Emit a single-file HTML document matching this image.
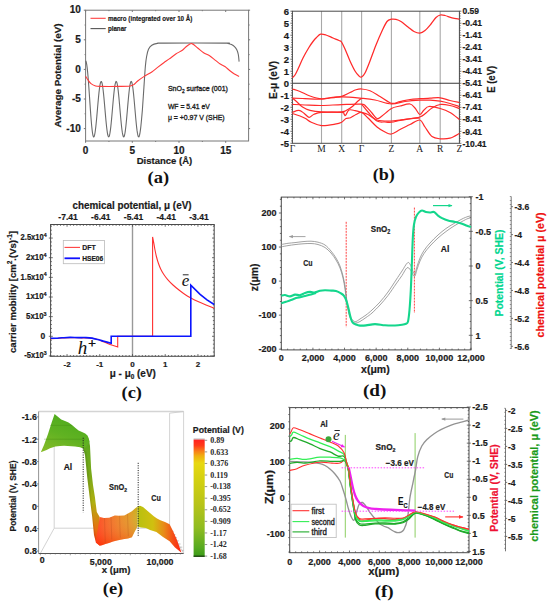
<!DOCTYPE html>
<html><head><meta charset="utf-8"><style>
html,body{margin:0;padding:0;background:#fff;}
svg{display:block;}
</style></head><body>
<svg width="550" height="606" viewBox="0 0 550 606">
<rect width="550" height="606" fill="#fff"/>
<rect x="85.6" y="10.2" width="163.0" height="130.8" fill="none" stroke="#777" stroke-width="1"/>
<line x1="85.6" y1="141" x2="85.6" y2="142.8" stroke="#777" stroke-width="1" />
<line x1="85.6" y1="10.2" x2="85.6" y2="12" stroke="#777" stroke-width="1" />
<line x1="132.3" y1="141" x2="132.3" y2="142.8" stroke="#777" stroke-width="1" />
<line x1="132.3" y1="10.2" x2="132.3" y2="12" stroke="#777" stroke-width="1" />
<line x1="179" y1="141" x2="179" y2="142.8" stroke="#777" stroke-width="1" />
<line x1="179" y1="10.2" x2="179" y2="12" stroke="#777" stroke-width="1" />
<line x1="225.7" y1="141" x2="225.7" y2="142.8" stroke="#777" stroke-width="1" />
<line x1="225.7" y1="10.2" x2="225.7" y2="12" stroke="#777" stroke-width="1" />
<line x1="108.95" y1="141" x2="108.95" y2="142" stroke="#777" stroke-width="1" />
<line x1="108.95" y1="10.2" x2="108.95" y2="11.2" stroke="#777" stroke-width="1" />
<line x1="155.65" y1="141" x2="155.65" y2="142" stroke="#777" stroke-width="1" />
<line x1="155.65" y1="10.2" x2="155.65" y2="11.2" stroke="#777" stroke-width="1" />
<line x1="202.35" y1="141" x2="202.35" y2="142" stroke="#777" stroke-width="1" />
<line x1="202.35" y1="10.2" x2="202.35" y2="11.2" stroke="#777" stroke-width="1" />
<line x1="83.8" y1="10.2" x2="85.6" y2="10.2" stroke="#777" stroke-width="1" />
<line x1="248.6" y1="10.2" x2="250.1" y2="10.2" stroke="#777" stroke-width="1" />
<line x1="83.8" y1="39.8" x2="85.6" y2="39.8" stroke="#777" stroke-width="1" />
<line x1="248.6" y1="39.8" x2="250.1" y2="39.8" stroke="#777" stroke-width="1" />
<line x1="83.8" y1="69.4" x2="85.6" y2="69.4" stroke="#777" stroke-width="1" />
<line x1="248.6" y1="69.4" x2="250.1" y2="69.4" stroke="#777" stroke-width="1" />
<line x1="83.8" y1="99" x2="85.6" y2="99" stroke="#777" stroke-width="1" />
<line x1="248.6" y1="99" x2="250.1" y2="99" stroke="#777" stroke-width="1" />
<line x1="83.8" y1="128.6" x2="85.6" y2="128.6" stroke="#777" stroke-width="1" />
<line x1="248.6" y1="128.6" x2="250.1" y2="128.6" stroke="#777" stroke-width="1" />
<line x1="84.6" y1="25" x2="85.6" y2="25" stroke="#777" stroke-width="1" />
<line x1="248.6" y1="25" x2="249.6" y2="25" stroke="#777" stroke-width="1" />
<line x1="84.6" y1="54.6" x2="85.6" y2="54.6" stroke="#777" stroke-width="1" />
<line x1="248.6" y1="54.6" x2="249.6" y2="54.6" stroke="#777" stroke-width="1" />
<line x1="84.6" y1="84.2" x2="85.6" y2="84.2" stroke="#777" stroke-width="1" />
<line x1="248.6" y1="84.2" x2="249.6" y2="84.2" stroke="#777" stroke-width="1" />
<line x1="84.6" y1="113.8" x2="85.6" y2="113.8" stroke="#777" stroke-width="1" />
<line x1="248.6" y1="113.8" x2="249.6" y2="113.8" stroke="#777" stroke-width="1" />
<text x="80.8" y="13.4" font-size="10" font-weight="bold" text-anchor="end" fill="#1a1a1a" font-family='"Liberation Sans", sans-serif' stroke="#1a1a1a" stroke-width="0.2" >10</text>
<text x="80.8" y="43" font-size="10" font-weight="bold" text-anchor="end" fill="#1a1a1a" font-family='"Liberation Sans", sans-serif' stroke="#1a1a1a" stroke-width="0.2" >5</text>
<text x="80.8" y="72.6" font-size="10" font-weight="bold" text-anchor="end" fill="#1a1a1a" font-family='"Liberation Sans", sans-serif' stroke="#1a1a1a" stroke-width="0.2" >0</text>
<text x="80.8" y="102.2" font-size="10" font-weight="bold" text-anchor="end" fill="#1a1a1a" font-family='"Liberation Sans", sans-serif' stroke="#1a1a1a" stroke-width="0.2" >-5</text>
<text x="80.8" y="131.8" font-size="10" font-weight="bold" text-anchor="end" fill="#1a1a1a" font-family='"Liberation Sans", sans-serif' stroke="#1a1a1a" stroke-width="0.2" >-10</text>
<text x="85.6" y="153.6" font-size="10" font-weight="bold" text-anchor="middle" fill="#1a1a1a" font-family='"Liberation Sans", sans-serif' stroke="#1a1a1a" stroke-width="0.2" >0</text>
<text x="132.3" y="153.6" font-size="10" font-weight="bold" text-anchor="middle" fill="#1a1a1a" font-family='"Liberation Sans", sans-serif' stroke="#1a1a1a" stroke-width="0.2" >5</text>
<text x="179" y="153.6" font-size="10" font-weight="bold" text-anchor="middle" fill="#1a1a1a" font-family='"Liberation Sans", sans-serif' stroke="#1a1a1a" stroke-width="0.2" >10</text>
<text x="225.7" y="153.6" font-size="10" font-weight="bold" text-anchor="middle" fill="#1a1a1a" font-family='"Liberation Sans", sans-serif' stroke="#1a1a1a" stroke-width="0.2" >15</text>
<text x="60.6" y="75.5" font-size="9.8" font-weight="bold" text-anchor="middle" fill="#1a1a1a" font-family='"Liberation Sans", sans-serif' textLength="104" lengthAdjust="spacingAndGlyphs" transform="rotate(-90 60.6 75.5)" stroke="#1a1a1a" stroke-width="0.2" >Average Potential (eV)</text>
<text x="164.5" y="163.8" font-size="9.6" font-weight="bold" text-anchor="middle" fill="#1a1a1a" font-family='"Liberation Sans", sans-serif' textLength="55.5" lengthAdjust="spacingAndGlyphs" stroke="#1a1a1a" stroke-width="0.2" >Distance (Å)</text>
<text x="158.3" y="183.3" font-size="16.5" font-weight="bold" text-anchor="middle" fill="#111" font-family='"Liberation Serif", serif' textLength="21.6" lengthAdjust="spacingAndGlyphs" >(a)</text>
<path d="M85.6,60.9 L86,61.37 L86.41,62.76 L86.81,65.04 L87.22,68.16 L87.62,72.03 L88.03,76.56 L88.44,81.65 L88.84,87.16 L89.25,92.96 L89.65,98.9 L90.06,104.84 L90.46,110.64 L90.86,116.15 L91.27,121.24 L91.67,125.77 L92.08,129.64 L92.48,132.76 L92.89,135.04 L93.3,136.43 L93.7,136.9 L93.7,136.9 L94.05,136.6 L94.4,135.72 L94.75,134.26 L95.1,132.27 L95.45,129.79 L95.8,126.86 L96.15,123.55 L96.5,119.93 L96.85,116.09 L97.2,112.1 L97.55,108.04 L97.9,104.01 L98.25,100.09 L98.6,96.37 L98.95,92.92 L99.3,89.82 L99.65,87.14 L100,84.93 L100.35,83.24 L100.7,82.11 L101.05,81.55 L101.4,81.6 L101.75,82.23 L102.1,83.45 L102.45,85.21 L102.8,87.49 L103.15,90.24 L103.5,93.39 L103.85,96.88 L104.2,100.64 L104.55,104.58 L104.9,108.62 L105.25,112.67 L105.6,116.65 L105.95,120.47 L106.3,124.04 L106.65,127.3 L107,130.17 L107.35,132.59 L107.7,134.51 L108.05,135.88 L108.4,136.68 L108.75,136.89 L109.1,136.51 L109.45,135.54 L109.8,134.01 L110.15,131.95 L110.5,129.39 L110.85,126.41 L111.2,123.05 L111.55,119.4 L111.9,115.53 L112.25,111.52 L112.6,107.46 L112.95,103.44 L113.3,99.54 L113.65,95.86 L114,92.45 L114.35,89.41 L114.7,86.79 L115.05,84.65 L115.4,83.04 L115.75,81.99 L116.1,81.52 L116.45,81.65 L116.8,82.37 L117.15,83.66 L117.5,85.51 L117.85,87.86 L118.2,90.67 L118.55,93.87 L118.9,97.41 L119.25,101.19 L119.6,105.15 L119.95,109.2 L120.3,113.25 L120.65,117.21 L121,120.99 L121.35,124.53 L121.7,127.73 L122.05,130.54 L122.4,132.89 L122.75,134.74 L123.1,136.03 L123.45,136.75 L123.8,136.88 L124.15,136.41 L124.5,135.36 L124.85,133.75 L125.2,131.61 L125.55,128.99 L125.9,125.95 L126.25,122.54 L126.6,118.86 L126.95,114.96 L127.3,110.94 L127.65,106.88 L128,102.87 L128.35,99 L128.7,95.35 L129.05,91.99 L129.4,89.01 L129.75,86.45 L130.1,84.39 L130.45,82.86 L130.8,81.89 L131.15,81.51 L131.5,81.72 L131.85,82.52 L132.2,83.89 L132.55,85.81 L132.9,88.23 L133.25,91.1 L133.6,94.36 L133.95,97.93 L134.3,101.75 L134.65,105.73 L135,109.78 L135.35,113.82 L135.7,117.76 L136.05,121.52 L136.4,125.01 L136.75,128.16 L137.1,130.91 L137.45,133.19 L137.8,134.95 L138.15,136.17 L138.5,136.8 L138.85,136.85 L139.2,136.29 L139.55,135.16 L139.9,133.47 L140.25,131.26 L140.6,128.58 L140.95,125.48 L141.3,122.03 L141.65,118.31 L142,114.39 L142.35,110.36 L143.4,95 L143.4,95 C143.57,92.5 144.07,84.83 144.4,80 C144.73,75.17 145.03,69.92 145.4,66 C145.77,62.08 146.08,59.28 146.6,56.5 C147.12,53.72 147.63,51.18 148.5,49.3 C149.37,47.42 150.33,46.18 151.8,45.2 C153.27,44.22 155.1,43.75 157.3,43.4 C159.5,43.05 153.88,43.15 165,43.1 C176.12,43.05 213.5,43.03 224,43.1 C234.5,43.17 226.75,43.25 228,43.5 C229.25,43.75 230.42,44.08 231.5,44.6 C232.58,45.12 233.62,45.73 234.5,46.6 C235.38,47.47 236.17,48.48 236.8,49.8 C237.43,51.12 237.92,52.53 238.3,54.5 C238.68,56.47 238.97,60.42 239.1,61.6" stroke="#6a6a6a" stroke-width="1.1" fill="none" />
<path d="M85.6,76.3 C86,76.92 87.1,78.78 88,80 C88.9,81.22 89.83,82.63 91,83.6 C92.17,84.57 93.5,85.33 95,85.8 C96.5,86.27 95.83,86.3 100,86.4 C104.17,86.5 115,86.47 120,86.4 C125,86.33 127.67,86.32 130,86 C132.33,85.68 132.67,85.37 134,84.5 C135.33,83.63 136.3,82.15 138,80.8 C139.7,79.45 141.9,77.87 144.2,76.4 C146.5,74.93 149.62,73.47 151.8,72 C153.98,70.53 155.3,69.15 157.3,67.6 C159.3,66.05 161.8,64.15 163.8,62.7 C165.8,61.25 167.3,60.35 169.3,58.9 C171.3,57.45 173.62,55.45 175.8,54 C177.98,52.55 180.53,51.53 182.4,50.2 C184.27,48.87 185.43,47.1 187,46 C188.57,44.9 190.02,43.27 191.8,43.6 C193.58,43.93 195.73,46.48 197.7,48 C199.67,49.52 201.62,51.4 203.6,52.7 C205.58,54 207.62,54.52 209.6,55.8 C211.58,57.08 213.73,59.03 215.5,60.4 C217.27,61.77 218.63,62.98 220.2,64 C221.77,65.02 223.33,65.42 224.9,66.5 C226.47,67.58 228.02,69.25 229.6,70.5 C231.18,71.75 232.82,73.02 234.4,74 C235.98,74.98 238.32,76 239.1,76.4" stroke="#ff3b3b" stroke-width="1.1" fill="none" />
<line x1="90.5" y1="18.3" x2="105.7" y2="18.3" stroke="#ff4040" stroke-width="1.1" />
<line x1="90.5" y1="28.6" x2="105.7" y2="28.6" stroke="#555" stroke-width="1.1" />
<text x="107.9" y="21" font-size="7.4" font-weight="bold" text-anchor="start" fill="#1a1a1a" font-family='"Liberation Sans", sans-serif' textLength="84.5" lengthAdjust="spacingAndGlyphs" stroke="#1a1a1a" stroke-width="0.2" >macro (integrated over 10 Å)</text>
<text x="107.9" y="31.3" font-size="7.4" font-weight="bold" text-anchor="start" fill="#1a1a1a" font-family='"Liberation Sans", sans-serif' textLength="18.6" lengthAdjust="spacingAndGlyphs" stroke="#1a1a1a" stroke-width="0.2" >planar</text>
<text x="167.9" y="90.9" font-size="8" font-weight="normal" text-anchor="start" fill="#222" font-family='"Liberation Sans", sans-serif' textLength="60" lengthAdjust="spacingAndGlyphs" stroke="#222" stroke-width="0.35" >SnO<tspan font-size="5.5" dy="1.8">2</tspan><tspan dy="-1.8"> surface (001)</tspan></text>
<text x="167.9" y="108.9" font-size="8" font-weight="normal" text-anchor="start" fill="#222" font-family='"Liberation Sans", sans-serif' textLength="42" lengthAdjust="spacingAndGlyphs" stroke="#222" stroke-width="0.35" >WF = 5.41 eV</text>
<text x="167.9" y="120" font-size="8" font-weight="normal" text-anchor="start" fill="#222" font-family='"Liberation Sans", sans-serif' textLength="56.7" lengthAdjust="spacingAndGlyphs" stroke="#222" stroke-width="0.35" >μ = +0.97 V (SHE)</text>
<line x1="321.5" y1="11.2" x2="321.5" y2="143.3" stroke="#a8a8a8" stroke-width="1.1" />
<line x1="341.7" y1="11.2" x2="341.7" y2="143.3" stroke="#a8a8a8" stroke-width="1.1" />
<line x1="361.6" y1="11.2" x2="361.6" y2="143.3" stroke="#a8a8a8" stroke-width="1.1" />
<line x1="391.4" y1="11.2" x2="391.4" y2="143.3" stroke="#a8a8a8" stroke-width="1.1" />
<line x1="419.8" y1="11.2" x2="419.8" y2="143.3" stroke="#a8a8a8" stroke-width="1.1" />
<line x1="440.2" y1="11.2" x2="440.2" y2="143.3" stroke="#a8a8a8" stroke-width="1.1" />
<line x1="292.4" y1="83.26" x2="459.4" y2="83.26" stroke="#222" stroke-width="0.9" />
<rect x="292.4" y="11.2" width="167.0" height="132.10000000000002" fill="none" stroke="#4a4a4a" stroke-width="1"/>
<line x1="290.4" y1="11.2" x2="292.4" y2="11.2" stroke="#4a4a4a" stroke-width="0.8" />
<line x1="459.4" y1="11.2" x2="461.4" y2="11.2" stroke="#4a4a4a" stroke-width="0.8" />
<line x1="291.2" y1="13.6" x2="292.4" y2="13.6" stroke="#4a4a4a" stroke-width="0.8" />
<line x1="459.4" y1="13.6" x2="460.6" y2="13.6" stroke="#4a4a4a" stroke-width="0.8" />
<line x1="291.2" y1="16" x2="292.4" y2="16" stroke="#4a4a4a" stroke-width="0.8" />
<line x1="459.4" y1="16" x2="460.6" y2="16" stroke="#4a4a4a" stroke-width="0.8" />
<line x1="291.2" y1="18.41" x2="292.4" y2="18.41" stroke="#4a4a4a" stroke-width="0.8" />
<line x1="459.4" y1="18.41" x2="460.6" y2="18.41" stroke="#4a4a4a" stroke-width="0.8" />
<line x1="291.2" y1="20.81" x2="292.4" y2="20.81" stroke="#4a4a4a" stroke-width="0.8" />
<line x1="459.4" y1="20.81" x2="460.6" y2="20.81" stroke="#4a4a4a" stroke-width="0.8" />
<line x1="290.4" y1="23.21" x2="292.4" y2="23.21" stroke="#4a4a4a" stroke-width="0.8" />
<line x1="459.4" y1="23.21" x2="461.4" y2="23.21" stroke="#4a4a4a" stroke-width="0.8" />
<line x1="291.2" y1="25.61" x2="292.4" y2="25.61" stroke="#4a4a4a" stroke-width="0.8" />
<line x1="459.4" y1="25.61" x2="460.6" y2="25.61" stroke="#4a4a4a" stroke-width="0.8" />
<line x1="291.2" y1="28.01" x2="292.4" y2="28.01" stroke="#4a4a4a" stroke-width="0.8" />
<line x1="459.4" y1="28.01" x2="460.6" y2="28.01" stroke="#4a4a4a" stroke-width="0.8" />
<line x1="291.2" y1="30.42" x2="292.4" y2="30.42" stroke="#4a4a4a" stroke-width="0.8" />
<line x1="459.4" y1="30.42" x2="460.6" y2="30.42" stroke="#4a4a4a" stroke-width="0.8" />
<line x1="291.2" y1="32.82" x2="292.4" y2="32.82" stroke="#4a4a4a" stroke-width="0.8" />
<line x1="459.4" y1="32.82" x2="460.6" y2="32.82" stroke="#4a4a4a" stroke-width="0.8" />
<line x1="290.4" y1="35.22" x2="292.4" y2="35.22" stroke="#4a4a4a" stroke-width="0.8" />
<line x1="459.4" y1="35.22" x2="461.4" y2="35.22" stroke="#4a4a4a" stroke-width="0.8" />
<line x1="291.2" y1="37.62" x2="292.4" y2="37.62" stroke="#4a4a4a" stroke-width="0.8" />
<line x1="459.4" y1="37.62" x2="460.6" y2="37.62" stroke="#4a4a4a" stroke-width="0.8" />
<line x1="291.2" y1="40.02" x2="292.4" y2="40.02" stroke="#4a4a4a" stroke-width="0.8" />
<line x1="459.4" y1="40.02" x2="460.6" y2="40.02" stroke="#4a4a4a" stroke-width="0.8" />
<line x1="291.2" y1="42.43" x2="292.4" y2="42.43" stroke="#4a4a4a" stroke-width="0.8" />
<line x1="459.4" y1="42.43" x2="460.6" y2="42.43" stroke="#4a4a4a" stroke-width="0.8" />
<line x1="291.2" y1="44.83" x2="292.4" y2="44.83" stroke="#4a4a4a" stroke-width="0.8" />
<line x1="459.4" y1="44.83" x2="460.6" y2="44.83" stroke="#4a4a4a" stroke-width="0.8" />
<line x1="290.4" y1="47.23" x2="292.4" y2="47.23" stroke="#4a4a4a" stroke-width="0.8" />
<line x1="459.4" y1="47.23" x2="461.4" y2="47.23" stroke="#4a4a4a" stroke-width="0.8" />
<line x1="291.2" y1="49.63" x2="292.4" y2="49.63" stroke="#4a4a4a" stroke-width="0.8" />
<line x1="459.4" y1="49.63" x2="460.6" y2="49.63" stroke="#4a4a4a" stroke-width="0.8" />
<line x1="291.2" y1="52.03" x2="292.4" y2="52.03" stroke="#4a4a4a" stroke-width="0.8" />
<line x1="459.4" y1="52.03" x2="460.6" y2="52.03" stroke="#4a4a4a" stroke-width="0.8" />
<line x1="291.2" y1="54.44" x2="292.4" y2="54.44" stroke="#4a4a4a" stroke-width="0.8" />
<line x1="459.4" y1="54.44" x2="460.6" y2="54.44" stroke="#4a4a4a" stroke-width="0.8" />
<line x1="291.2" y1="56.84" x2="292.4" y2="56.84" stroke="#4a4a4a" stroke-width="0.8" />
<line x1="459.4" y1="56.84" x2="460.6" y2="56.84" stroke="#4a4a4a" stroke-width="0.8" />
<line x1="290.4" y1="59.24" x2="292.4" y2="59.24" stroke="#4a4a4a" stroke-width="0.8" />
<line x1="459.4" y1="59.24" x2="461.4" y2="59.24" stroke="#4a4a4a" stroke-width="0.8" />
<line x1="291.2" y1="61.64" x2="292.4" y2="61.64" stroke="#4a4a4a" stroke-width="0.8" />
<line x1="459.4" y1="61.64" x2="460.6" y2="61.64" stroke="#4a4a4a" stroke-width="0.8" />
<line x1="291.2" y1="64.04" x2="292.4" y2="64.04" stroke="#4a4a4a" stroke-width="0.8" />
<line x1="459.4" y1="64.04" x2="460.6" y2="64.04" stroke="#4a4a4a" stroke-width="0.8" />
<line x1="291.2" y1="66.45" x2="292.4" y2="66.45" stroke="#4a4a4a" stroke-width="0.8" />
<line x1="459.4" y1="66.45" x2="460.6" y2="66.45" stroke="#4a4a4a" stroke-width="0.8" />
<line x1="291.2" y1="68.85" x2="292.4" y2="68.85" stroke="#4a4a4a" stroke-width="0.8" />
<line x1="459.4" y1="68.85" x2="460.6" y2="68.85" stroke="#4a4a4a" stroke-width="0.8" />
<line x1="290.4" y1="71.25" x2="292.4" y2="71.25" stroke="#4a4a4a" stroke-width="0.8" />
<line x1="459.4" y1="71.25" x2="461.4" y2="71.25" stroke="#4a4a4a" stroke-width="0.8" />
<line x1="291.2" y1="73.65" x2="292.4" y2="73.65" stroke="#4a4a4a" stroke-width="0.8" />
<line x1="459.4" y1="73.65" x2="460.6" y2="73.65" stroke="#4a4a4a" stroke-width="0.8" />
<line x1="291.2" y1="76.05" x2="292.4" y2="76.05" stroke="#4a4a4a" stroke-width="0.8" />
<line x1="459.4" y1="76.05" x2="460.6" y2="76.05" stroke="#4a4a4a" stroke-width="0.8" />
<line x1="291.2" y1="78.46" x2="292.4" y2="78.46" stroke="#4a4a4a" stroke-width="0.8" />
<line x1="459.4" y1="78.46" x2="460.6" y2="78.46" stroke="#4a4a4a" stroke-width="0.8" />
<line x1="291.2" y1="80.86" x2="292.4" y2="80.86" stroke="#4a4a4a" stroke-width="0.8" />
<line x1="459.4" y1="80.86" x2="460.6" y2="80.86" stroke="#4a4a4a" stroke-width="0.8" />
<line x1="290.4" y1="83.26" x2="292.4" y2="83.26" stroke="#4a4a4a" stroke-width="0.8" />
<line x1="459.4" y1="83.26" x2="461.4" y2="83.26" stroke="#4a4a4a" stroke-width="0.8" />
<line x1="291.2" y1="85.66" x2="292.4" y2="85.66" stroke="#4a4a4a" stroke-width="0.8" />
<line x1="459.4" y1="85.66" x2="460.6" y2="85.66" stroke="#4a4a4a" stroke-width="0.8" />
<line x1="291.2" y1="88.06" x2="292.4" y2="88.06" stroke="#4a4a4a" stroke-width="0.8" />
<line x1="459.4" y1="88.06" x2="460.6" y2="88.06" stroke="#4a4a4a" stroke-width="0.8" />
<line x1="291.2" y1="90.47" x2="292.4" y2="90.47" stroke="#4a4a4a" stroke-width="0.8" />
<line x1="459.4" y1="90.47" x2="460.6" y2="90.47" stroke="#4a4a4a" stroke-width="0.8" />
<line x1="291.2" y1="92.87" x2="292.4" y2="92.87" stroke="#4a4a4a" stroke-width="0.8" />
<line x1="459.4" y1="92.87" x2="460.6" y2="92.87" stroke="#4a4a4a" stroke-width="0.8" />
<line x1="290.4" y1="95.27" x2="292.4" y2="95.27" stroke="#4a4a4a" stroke-width="0.8" />
<line x1="459.4" y1="95.27" x2="461.4" y2="95.27" stroke="#4a4a4a" stroke-width="0.8" />
<line x1="291.2" y1="97.67" x2="292.4" y2="97.67" stroke="#4a4a4a" stroke-width="0.8" />
<line x1="459.4" y1="97.67" x2="460.6" y2="97.67" stroke="#4a4a4a" stroke-width="0.8" />
<line x1="291.2" y1="100.07" x2="292.4" y2="100.07" stroke="#4a4a4a" stroke-width="0.8" />
<line x1="459.4" y1="100.07" x2="460.6" y2="100.07" stroke="#4a4a4a" stroke-width="0.8" />
<line x1="291.2" y1="102.48" x2="292.4" y2="102.48" stroke="#4a4a4a" stroke-width="0.8" />
<line x1="459.4" y1="102.48" x2="460.6" y2="102.48" stroke="#4a4a4a" stroke-width="0.8" />
<line x1="291.2" y1="104.88" x2="292.4" y2="104.88" stroke="#4a4a4a" stroke-width="0.8" />
<line x1="459.4" y1="104.88" x2="460.6" y2="104.88" stroke="#4a4a4a" stroke-width="0.8" />
<line x1="290.4" y1="107.28" x2="292.4" y2="107.28" stroke="#4a4a4a" stroke-width="0.8" />
<line x1="459.4" y1="107.28" x2="461.4" y2="107.28" stroke="#4a4a4a" stroke-width="0.8" />
<line x1="291.2" y1="109.68" x2="292.4" y2="109.68" stroke="#4a4a4a" stroke-width="0.8" />
<line x1="459.4" y1="109.68" x2="460.6" y2="109.68" stroke="#4a4a4a" stroke-width="0.8" />
<line x1="291.2" y1="112.08" x2="292.4" y2="112.08" stroke="#4a4a4a" stroke-width="0.8" />
<line x1="459.4" y1="112.08" x2="460.6" y2="112.08" stroke="#4a4a4a" stroke-width="0.8" />
<line x1="291.2" y1="114.49" x2="292.4" y2="114.49" stroke="#4a4a4a" stroke-width="0.8" />
<line x1="459.4" y1="114.49" x2="460.6" y2="114.49" stroke="#4a4a4a" stroke-width="0.8" />
<line x1="291.2" y1="116.89" x2="292.4" y2="116.89" stroke="#4a4a4a" stroke-width="0.8" />
<line x1="459.4" y1="116.89" x2="460.6" y2="116.89" stroke="#4a4a4a" stroke-width="0.8" />
<line x1="290.4" y1="119.29" x2="292.4" y2="119.29" stroke="#4a4a4a" stroke-width="0.8" />
<line x1="459.4" y1="119.29" x2="461.4" y2="119.29" stroke="#4a4a4a" stroke-width="0.8" />
<line x1="291.2" y1="121.69" x2="292.4" y2="121.69" stroke="#4a4a4a" stroke-width="0.8" />
<line x1="459.4" y1="121.69" x2="460.6" y2="121.69" stroke="#4a4a4a" stroke-width="0.8" />
<line x1="291.2" y1="124.09" x2="292.4" y2="124.09" stroke="#4a4a4a" stroke-width="0.8" />
<line x1="459.4" y1="124.09" x2="460.6" y2="124.09" stroke="#4a4a4a" stroke-width="0.8" />
<line x1="291.2" y1="126.5" x2="292.4" y2="126.5" stroke="#4a4a4a" stroke-width="0.8" />
<line x1="459.4" y1="126.5" x2="460.6" y2="126.5" stroke="#4a4a4a" stroke-width="0.8" />
<line x1="291.2" y1="128.9" x2="292.4" y2="128.9" stroke="#4a4a4a" stroke-width="0.8" />
<line x1="459.4" y1="128.9" x2="460.6" y2="128.9" stroke="#4a4a4a" stroke-width="0.8" />
<line x1="290.4" y1="131.3" x2="292.4" y2="131.3" stroke="#4a4a4a" stroke-width="0.8" />
<line x1="459.4" y1="131.3" x2="461.4" y2="131.3" stroke="#4a4a4a" stroke-width="0.8" />
<line x1="291.2" y1="133.7" x2="292.4" y2="133.7" stroke="#4a4a4a" stroke-width="0.8" />
<line x1="459.4" y1="133.7" x2="460.6" y2="133.7" stroke="#4a4a4a" stroke-width="0.8" />
<line x1="291.2" y1="136.1" x2="292.4" y2="136.1" stroke="#4a4a4a" stroke-width="0.8" />
<line x1="459.4" y1="136.1" x2="460.6" y2="136.1" stroke="#4a4a4a" stroke-width="0.8" />
<line x1="291.2" y1="138.51" x2="292.4" y2="138.51" stroke="#4a4a4a" stroke-width="0.8" />
<line x1="459.4" y1="138.51" x2="460.6" y2="138.51" stroke="#4a4a4a" stroke-width="0.8" />
<line x1="291.2" y1="140.91" x2="292.4" y2="140.91" stroke="#4a4a4a" stroke-width="0.8" />
<line x1="459.4" y1="140.91" x2="460.6" y2="140.91" stroke="#4a4a4a" stroke-width="0.8" />
<line x1="290.4" y1="143.31" x2="292.4" y2="143.31" stroke="#4a4a4a" stroke-width="0.8" />
<line x1="459.4" y1="143.31" x2="461.4" y2="143.31" stroke="#4a4a4a" stroke-width="0.8" />
<text x="289" y="14.5" font-size="9.5" font-weight="bold" text-anchor="end" fill="#1a1a1a" font-family='"Liberation Sans", sans-serif' stroke="#1a1a1a" stroke-width="0.2" >6</text>
<text x="462.5" y="14.4" font-size="8.5" font-weight="bold" text-anchor="start" fill="#1a1a1a" font-family='"Liberation Sans", sans-serif' stroke="#1a1a1a" stroke-width="0.2" >0.59</text>
<text x="289" y="26.51" font-size="9.5" font-weight="bold" text-anchor="end" fill="#1a1a1a" font-family='"Liberation Sans", sans-serif' stroke="#1a1a1a" stroke-width="0.2" >5</text>
<text x="462.5" y="26.41" font-size="8.5" font-weight="bold" text-anchor="start" fill="#1a1a1a" font-family='"Liberation Sans", sans-serif' stroke="#1a1a1a" stroke-width="0.2" >-0.41</text>
<text x="289" y="38.52" font-size="9.5" font-weight="bold" text-anchor="end" fill="#1a1a1a" font-family='"Liberation Sans", sans-serif' stroke="#1a1a1a" stroke-width="0.2" >4</text>
<text x="462.5" y="38.42" font-size="8.5" font-weight="bold" text-anchor="start" fill="#1a1a1a" font-family='"Liberation Sans", sans-serif' stroke="#1a1a1a" stroke-width="0.2" >-1.41</text>
<text x="289" y="50.53" font-size="9.5" font-weight="bold" text-anchor="end" fill="#1a1a1a" font-family='"Liberation Sans", sans-serif' stroke="#1a1a1a" stroke-width="0.2" >3</text>
<text x="462.5" y="50.43" font-size="8.5" font-weight="bold" text-anchor="start" fill="#1a1a1a" font-family='"Liberation Sans", sans-serif' stroke="#1a1a1a" stroke-width="0.2" >-2.41</text>
<text x="289" y="62.54" font-size="9.5" font-weight="bold" text-anchor="end" fill="#1a1a1a" font-family='"Liberation Sans", sans-serif' stroke="#1a1a1a" stroke-width="0.2" >2</text>
<text x="462.5" y="62.44" font-size="8.5" font-weight="bold" text-anchor="start" fill="#1a1a1a" font-family='"Liberation Sans", sans-serif' stroke="#1a1a1a" stroke-width="0.2" >-3.41</text>
<text x="289" y="74.55" font-size="9.5" font-weight="bold" text-anchor="end" fill="#1a1a1a" font-family='"Liberation Sans", sans-serif' stroke="#1a1a1a" stroke-width="0.2" >1</text>
<text x="462.5" y="74.45" font-size="8.5" font-weight="bold" text-anchor="start" fill="#1a1a1a" font-family='"Liberation Sans", sans-serif' stroke="#1a1a1a" stroke-width="0.2" >-4.41</text>
<text x="289" y="86.56" font-size="9.5" font-weight="bold" text-anchor="end" fill="#1a1a1a" font-family='"Liberation Sans", sans-serif' stroke="#1a1a1a" stroke-width="0.2" >0</text>
<text x="462.5" y="86.46" font-size="8.5" font-weight="bold" text-anchor="start" fill="#1a1a1a" font-family='"Liberation Sans", sans-serif' stroke="#1a1a1a" stroke-width="0.2" >-5.41</text>
<text x="289" y="98.57" font-size="9.5" font-weight="bold" text-anchor="end" fill="#1a1a1a" font-family='"Liberation Sans", sans-serif' stroke="#1a1a1a" stroke-width="0.2" >-1</text>
<text x="462.5" y="98.47" font-size="8.5" font-weight="bold" text-anchor="start" fill="#1a1a1a" font-family='"Liberation Sans", sans-serif' stroke="#1a1a1a" stroke-width="0.2" >-6.41</text>
<text x="289" y="110.58" font-size="9.5" font-weight="bold" text-anchor="end" fill="#1a1a1a" font-family='"Liberation Sans", sans-serif' stroke="#1a1a1a" stroke-width="0.2" >-2</text>
<text x="462.5" y="110.48" font-size="8.5" font-weight="bold" text-anchor="start" fill="#1a1a1a" font-family='"Liberation Sans", sans-serif' stroke="#1a1a1a" stroke-width="0.2" >-7.41</text>
<text x="289" y="122.59" font-size="9.5" font-weight="bold" text-anchor="end" fill="#1a1a1a" font-family='"Liberation Sans", sans-serif' stroke="#1a1a1a" stroke-width="0.2" >-3</text>
<text x="462.5" y="122.49" font-size="8.5" font-weight="bold" text-anchor="start" fill="#1a1a1a" font-family='"Liberation Sans", sans-serif' stroke="#1a1a1a" stroke-width="0.2" >-8.41</text>
<text x="289" y="134.6" font-size="9.5" font-weight="bold" text-anchor="end" fill="#1a1a1a" font-family='"Liberation Sans", sans-serif' stroke="#1a1a1a" stroke-width="0.2" >-4</text>
<text x="462.5" y="134.5" font-size="8.5" font-weight="bold" text-anchor="start" fill="#1a1a1a" font-family='"Liberation Sans", sans-serif' stroke="#1a1a1a" stroke-width="0.2" >-9.41</text>
<text x="289" y="146.61" font-size="9.5" font-weight="bold" text-anchor="end" fill="#1a1a1a" font-family='"Liberation Sans", sans-serif' stroke="#1a1a1a" stroke-width="0.2" >-5</text>
<text x="462.5" y="146.51" font-size="8.5" font-weight="bold" text-anchor="start" fill="#1a1a1a" font-family='"Liberation Sans", sans-serif' stroke="#1a1a1a" stroke-width="0.2" >-10.41</text>
<text x="292.4" y="151.8" font-size="9.5" font-weight="normal" text-anchor="middle" fill="#1a1a1a" font-family='"Liberation Serif", serif' >Γ</text>
<text x="321.5" y="151.8" font-size="9.5" font-weight="normal" text-anchor="middle" fill="#1a1a1a" font-family='"Liberation Serif", serif' >M</text>
<text x="341.7" y="151.8" font-size="9.5" font-weight="normal" text-anchor="middle" fill="#1a1a1a" font-family='"Liberation Serif", serif' >X</text>
<text x="361.6" y="151.8" font-size="9.5" font-weight="normal" text-anchor="middle" fill="#1a1a1a" font-family='"Liberation Serif", serif' >Γ</text>
<text x="391.4" y="151.8" font-size="9.5" font-weight="normal" text-anchor="middle" fill="#1a1a1a" font-family='"Liberation Serif", serif' >Z</text>
<text x="419.8" y="151.8" font-size="9.5" font-weight="normal" text-anchor="middle" fill="#1a1a1a" font-family='"Liberation Serif", serif' >A</text>
<text x="440.2" y="151.8" font-size="9.5" font-weight="normal" text-anchor="middle" fill="#1a1a1a" font-family='"Liberation Serif", serif' >R</text>
<text x="459.4" y="151.8" font-size="9.5" font-weight="normal" text-anchor="middle" fill="#1a1a1a" font-family='"Liberation Serif", serif' >Z</text>
<text x="277.2" y="80" font-size="10.5" font-weight="bold" text-anchor="middle" fill="#1a1a1a" font-family='"Liberation Sans", sans-serif' textLength="38" lengthAdjust="spacingAndGlyphs" transform="rotate(-90 277.2 80)" stroke="#1a1a1a" stroke-width="0.2" >E-μ (eV)</text>
<text x="495" y="79.3" font-size="10.3" font-weight="bold" text-anchor="middle" fill="#1a1a1a" font-family='"Liberation Sans", sans-serif' textLength="27" lengthAdjust="spacingAndGlyphs" transform="rotate(-90 495 79.3)" stroke="#1a1a1a" stroke-width="0.2" >E (eV)</text>
<text x="383.7" y="180.2" font-size="16.5" font-weight="bold" text-anchor="middle" fill="#111" font-family='"Liberation Serif", serif' textLength="22.1" lengthAdjust="spacingAndGlyphs" >(b)</text>
<path d="M292.4,77.6 C292.83,77.17 293.95,76.68 295,75 C296.05,73.32 297.37,70.33 298.7,67.5 C300.03,64.67 301.3,61.33 303,58 C304.7,54.67 307.23,50.25 308.9,47.5 C310.57,44.75 311.73,43.17 313,41.5 C314.27,39.83 315.23,38.72 316.5,37.5 C317.77,36.28 319.02,34.62 320.6,34.2 C322.18,33.78 323.93,34.37 326,35 C328.07,35.63 330.83,37.08 333,38 C335.17,38.92 337.58,39.83 339,40.5 C340.42,41.17 340.5,40.58 341.5,42 C342.5,43.42 343.58,45.83 345,49 C346.42,52.17 348.33,57.33 350,61 C351.67,64.67 353.5,68.5 355,71 C356.5,73.5 357.9,75 359,76 C360.1,77 360.6,77.5 361.6,77 C362.6,76.5 363.6,75.67 365,73 C366.4,70.33 368.17,65.67 370,61 C371.83,56.33 374,50 376,45 C378,40 380.17,34.92 382,31 C383.83,27.08 385.43,23.47 387,21.5 C388.57,19.53 389.9,19.55 391.4,19.2 C392.9,18.85 394.4,19.02 396,19.4 C397.6,19.78 399,20.23 401,21.5 C403,22.77 405.83,25.33 408,27 C410.17,28.67 412.03,30.47 414,31.5 C415.97,32.53 417.97,33.37 419.8,33.2 C421.63,33.03 423.13,32.03 425,30.5 C426.87,28.97 429.17,26.17 431,24 C432.83,21.83 434.45,19 436,17.5 C437.55,16 438.8,15.33 440.3,15 C441.8,14.67 443.05,15.03 445,15.5 C446.95,15.97 449.6,17.2 452,17.8 C454.4,18.4 458.17,18.88 459.4,19.1" stroke="#ff2a2a" stroke-width="1.25" fill="none" />
<path d="M292.4,89 C293.67,89.42 297.07,90.33 300,91.5 C302.93,92.67 306.42,94.77 310,96 C313.58,97.23 318,98.65 321.5,98.9 C325,99.15 327.63,97.93 331,97.5 C334.37,97.07 338.53,97.13 341.7,96.3 C344.87,95.47 347.62,93.58 350,92.5 C352.38,91.42 354.07,90.38 356,89.8 C357.93,89.22 359.27,88.83 361.6,89 C363.93,89.17 366.93,89.55 370,90.8 C373.07,92.05 376.43,94.42 380,96.5 C383.57,98.58 388.07,102.47 391.4,103.3 C394.73,104.13 396.9,102.13 400,101.5 C403.1,100.87 406.7,99.97 410,99.5 C413.3,99.03 416.47,98.92 419.8,98.7 C423.13,98.48 426.6,98.35 430,98.2 C433.4,98.05 436.87,97.42 440.2,97.8 C443.53,98.18 446.8,99.72 450,100.5 C453.2,101.28 457.83,102.17 459.4,102.5" stroke="#ff2a2a" stroke-width="1.2" fill="none" />
<path d="M292.4,98.2 C294.5,98.27 300.15,98.47 305,98.6 C309.85,98.73 315.38,99.3 321.5,99 C327.62,98.7 335.02,96.92 341.7,96.8 C348.38,96.68 356.05,97.77 361.6,98.3 C367.15,98.83 370.03,99.05 375,100 C379.97,100.95 386.4,103.75 391.4,104 C396.4,104.25 400.27,102.13 405,101.5 C409.73,100.87 415.63,100.42 419.8,100.2 C423.97,99.98 426.6,100.03 430,100.2 C433.4,100.37 436.87,100.65 440.2,101.2 C443.53,101.75 446.8,102.62 450,103.5 C453.2,104.38 457.83,106 459.4,106.5" stroke="#ff2a2a" stroke-width="1.2" fill="none" />
<path d="M292.4,104.4 C294.5,104.5 300.15,104.82 305,105 C309.85,105.18 315.38,105.57 321.5,105.5 C327.62,105.43 335.02,104.82 341.7,104.6 C348.38,104.38 357.55,103.88 361.6,104.2 C365.65,104.52 364.27,105.03 366,106.5 C367.73,107.97 370.17,111 372,113 C373.83,115 375.33,118 377,118.5 C378.67,119 379.6,117.67 382,116 C384.4,114.33 388.4,110.17 391.4,108.5 C394.4,106.83 396.9,106.75 400,106 C403.1,105.25 407.5,103.67 410,104 C412.5,104.33 413.37,106.25 415,108 C416.63,109.75 418.3,114.17 419.8,114.5 C421.3,114.83 422.47,111.33 424,110 C425.53,108.67 426.3,106.75 429,106.5 C431.7,106.25 436.7,107.5 440.2,108.5 C443.7,109.5 446.8,110.67 450,112.5 C453.2,114.33 457.83,118.33 459.4,119.5" stroke="#ff2a2a" stroke-width="1.2" fill="none" />
<path d="M292.4,98.2 C293.17,98.83 295.32,100.53 297,102 C298.68,103.47 300.33,105.62 302.5,107 C304.67,108.38 306.83,109.5 310,110.3 C313.17,111.1 316.22,111.55 321.5,111.8 C326.78,112.05 337.45,112.1 341.7,111.8 C345.95,111.5 345.12,110.97 347,110 C348.88,109.03 351.17,107.5 353,106 C354.83,104.5 356.57,102.28 358,101 C359.43,99.72 361,98.75 361.6,98.3" stroke="#ff2a2a" stroke-width="1.2" fill="none" />
<path d="M292.4,112.3 C293.48,111.98 296.97,110.25 298.9,110.4 C300.83,110.55 302.32,112.05 304,113.2 C305.68,114.35 307.33,117.12 309,117.3 C310.67,117.48 311.92,115.12 314,114.3 C316.08,113.48 316.88,112.72 321.5,112.4 C326.12,112.08 337.95,112.13 341.7,112.4 C345.45,112.67 343.37,113.5 344,114 C344.63,114.5 344.67,116.07 345.5,115.4 C346.33,114.73 347.42,110.8 349,110 C350.58,109.2 352.9,110.2 355,110.6 C357.1,111 359.43,111.75 361.6,112.4 C363.77,113.05 365.43,113.23 368,114.5 C370.57,115.77 373.1,118.92 377,120 C380.9,121.08 386.73,121.12 391.4,121 C396.07,120.88 400.27,119.97 405,119.3 C409.73,118.63 416.3,118.05 419.8,117 C423.3,115.95 423.97,114.5 426,113 C428.03,111.5 429.63,109.42 432,108 C434.37,106.58 437.2,104.92 440.2,104.5 C443.2,104.08 446.8,104.83 450,105.5 C453.2,106.17 457.83,108 459.4,108.5" stroke="#ff2a2a" stroke-width="1.2" fill="none" />
<path d="M292.4,113.5 C293.67,113.92 297.82,115.17 300,116 C302.18,116.83 303.62,117.47 305.5,118.5 C307.38,119.53 308.63,121.02 311.3,122.2 C313.97,123.38 317.55,125.27 321.5,125.6 C325.45,125.93 331.63,124.77 335,124.2 C338.37,123.63 339.87,123.15 341.7,122.2 C343.53,121.25 344.53,119.23 346,118.5 C347.47,117.77 348.83,118.47 350.5,117.8 C352.17,117.13 354.15,115.4 356,114.5 C357.85,113.6 359.6,111.82 361.6,112.4 C363.6,112.98 365.43,115.57 368,118 C370.57,120.43 374.17,124.67 377,127 C379.83,129.33 382.6,130.83 385,132 C387.4,133.17 388.9,134.42 391.4,134 C393.9,133.58 396.9,131.08 400,129.5 C403.1,127.92 406.7,126.08 410,124.5 C413.3,122.92 417.3,119.58 419.8,120 C422.3,120.42 422.97,124.25 425,127 C427.03,129.75 429.47,134.53 432,136.5 C434.53,138.47 437.2,138.52 440.2,138.8 C443.2,139.08 446.8,139.08 450,138.2 C453.2,137.32 457.83,134.28 459.4,133.5" stroke="#ff2a2a" stroke-width="1.2" fill="none" />
<path d="M361.6,104.2 C362.67,105.5 365.43,109.2 368,112 C370.57,114.8 374.17,119.33 377,121 C379.83,122.67 382.6,121.8 385,122 C387.4,122.2 388.9,122.45 391.4,122.2 C393.9,121.95 396.9,121.07 400,120.5 C403.1,119.93 406.7,119.22 410,118.8 C413.3,118.38 418.17,118.13 419.8,118" stroke="#ff2a2a" stroke-width="1.2" fill="none" />
<line x1="132.5" y1="224.5" x2="132.5" y2="356.3" stroke="#999" stroke-width="1.4" />
<rect x="50.6" y="224.5" width="163.6" height="131.8" fill="none" stroke="#4a4a4a" stroke-width="1"/>
<line x1="50.7" y1="356.3" x2="50.7" y2="355" stroke="#4a4a4a" stroke-width="0.8" />
<line x1="50.7" y1="224.5" x2="50.7" y2="225.8" stroke="#4a4a4a" stroke-width="0.8" />
<line x1="53.97" y1="356.3" x2="53.97" y2="355" stroke="#4a4a4a" stroke-width="0.8" />
<line x1="53.97" y1="224.5" x2="53.97" y2="225.8" stroke="#4a4a4a" stroke-width="0.8" />
<line x1="57.24" y1="356.3" x2="57.24" y2="355" stroke="#4a4a4a" stroke-width="0.8" />
<line x1="57.24" y1="224.5" x2="57.24" y2="225.8" stroke="#4a4a4a" stroke-width="0.8" />
<line x1="60.52" y1="356.3" x2="60.52" y2="355" stroke="#4a4a4a" stroke-width="0.8" />
<line x1="60.52" y1="224.5" x2="60.52" y2="225.8" stroke="#4a4a4a" stroke-width="0.8" />
<line x1="63.79" y1="356.3" x2="63.79" y2="355" stroke="#4a4a4a" stroke-width="0.8" />
<line x1="63.79" y1="224.5" x2="63.79" y2="225.8" stroke="#4a4a4a" stroke-width="0.8" />
<line x1="67.06" y1="356.3" x2="67.06" y2="354.1" stroke="#4a4a4a" stroke-width="0.8" />
<line x1="67.06" y1="224.5" x2="67.06" y2="226.7" stroke="#4a4a4a" stroke-width="0.8" />
<line x1="70.33" y1="356.3" x2="70.33" y2="355" stroke="#4a4a4a" stroke-width="0.8" />
<line x1="70.33" y1="224.5" x2="70.33" y2="225.8" stroke="#4a4a4a" stroke-width="0.8" />
<line x1="73.6" y1="356.3" x2="73.6" y2="355" stroke="#4a4a4a" stroke-width="0.8" />
<line x1="73.6" y1="224.5" x2="73.6" y2="225.8" stroke="#4a4a4a" stroke-width="0.8" />
<line x1="76.88" y1="356.3" x2="76.88" y2="355" stroke="#4a4a4a" stroke-width="0.8" />
<line x1="76.88" y1="224.5" x2="76.88" y2="225.8" stroke="#4a4a4a" stroke-width="0.8" />
<line x1="80.15" y1="356.3" x2="80.15" y2="355" stroke="#4a4a4a" stroke-width="0.8" />
<line x1="80.15" y1="224.5" x2="80.15" y2="225.8" stroke="#4a4a4a" stroke-width="0.8" />
<line x1="83.42" y1="356.3" x2="83.42" y2="355" stroke="#4a4a4a" stroke-width="0.8" />
<line x1="83.42" y1="224.5" x2="83.42" y2="225.8" stroke="#4a4a4a" stroke-width="0.8" />
<line x1="86.69" y1="356.3" x2="86.69" y2="355" stroke="#4a4a4a" stroke-width="0.8" />
<line x1="86.69" y1="224.5" x2="86.69" y2="225.8" stroke="#4a4a4a" stroke-width="0.8" />
<line x1="89.96" y1="356.3" x2="89.96" y2="355" stroke="#4a4a4a" stroke-width="0.8" />
<line x1="89.96" y1="224.5" x2="89.96" y2="225.8" stroke="#4a4a4a" stroke-width="0.8" />
<line x1="93.24" y1="356.3" x2="93.24" y2="355" stroke="#4a4a4a" stroke-width="0.8" />
<line x1="93.24" y1="224.5" x2="93.24" y2="225.8" stroke="#4a4a4a" stroke-width="0.8" />
<line x1="96.51" y1="356.3" x2="96.51" y2="355" stroke="#4a4a4a" stroke-width="0.8" />
<line x1="96.51" y1="224.5" x2="96.51" y2="225.8" stroke="#4a4a4a" stroke-width="0.8" />
<line x1="99.78" y1="356.3" x2="99.78" y2="354.1" stroke="#4a4a4a" stroke-width="0.8" />
<line x1="99.78" y1="224.5" x2="99.78" y2="226.7" stroke="#4a4a4a" stroke-width="0.8" />
<line x1="103.05" y1="356.3" x2="103.05" y2="355" stroke="#4a4a4a" stroke-width="0.8" />
<line x1="103.05" y1="224.5" x2="103.05" y2="225.8" stroke="#4a4a4a" stroke-width="0.8" />
<line x1="106.32" y1="356.3" x2="106.32" y2="355" stroke="#4a4a4a" stroke-width="0.8" />
<line x1="106.32" y1="224.5" x2="106.32" y2="225.8" stroke="#4a4a4a" stroke-width="0.8" />
<line x1="109.6" y1="356.3" x2="109.6" y2="355" stroke="#4a4a4a" stroke-width="0.8" />
<line x1="109.6" y1="224.5" x2="109.6" y2="225.8" stroke="#4a4a4a" stroke-width="0.8" />
<line x1="112.87" y1="356.3" x2="112.87" y2="355" stroke="#4a4a4a" stroke-width="0.8" />
<line x1="112.87" y1="224.5" x2="112.87" y2="225.8" stroke="#4a4a4a" stroke-width="0.8" />
<line x1="116.14" y1="356.3" x2="116.14" y2="355" stroke="#4a4a4a" stroke-width="0.8" />
<line x1="116.14" y1="224.5" x2="116.14" y2="225.8" stroke="#4a4a4a" stroke-width="0.8" />
<line x1="119.41" y1="356.3" x2="119.41" y2="355" stroke="#4a4a4a" stroke-width="0.8" />
<line x1="119.41" y1="224.5" x2="119.41" y2="225.8" stroke="#4a4a4a" stroke-width="0.8" />
<line x1="122.68" y1="356.3" x2="122.68" y2="355" stroke="#4a4a4a" stroke-width="0.8" />
<line x1="122.68" y1="224.5" x2="122.68" y2="225.8" stroke="#4a4a4a" stroke-width="0.8" />
<line x1="125.96" y1="356.3" x2="125.96" y2="355" stroke="#4a4a4a" stroke-width="0.8" />
<line x1="125.96" y1="224.5" x2="125.96" y2="225.8" stroke="#4a4a4a" stroke-width="0.8" />
<line x1="129.23" y1="356.3" x2="129.23" y2="355" stroke="#4a4a4a" stroke-width="0.8" />
<line x1="129.23" y1="224.5" x2="129.23" y2="225.8" stroke="#4a4a4a" stroke-width="0.8" />
<line x1="132.5" y1="356.3" x2="132.5" y2="354.1" stroke="#4a4a4a" stroke-width="0.8" />
<line x1="132.5" y1="224.5" x2="132.5" y2="226.7" stroke="#4a4a4a" stroke-width="0.8" />
<line x1="135.77" y1="356.3" x2="135.77" y2="355" stroke="#4a4a4a" stroke-width="0.8" />
<line x1="135.77" y1="224.5" x2="135.77" y2="225.8" stroke="#4a4a4a" stroke-width="0.8" />
<line x1="139.04" y1="356.3" x2="139.04" y2="355" stroke="#4a4a4a" stroke-width="0.8" />
<line x1="139.04" y1="224.5" x2="139.04" y2="225.8" stroke="#4a4a4a" stroke-width="0.8" />
<line x1="142.32" y1="356.3" x2="142.32" y2="355" stroke="#4a4a4a" stroke-width="0.8" />
<line x1="142.32" y1="224.5" x2="142.32" y2="225.8" stroke="#4a4a4a" stroke-width="0.8" />
<line x1="145.59" y1="356.3" x2="145.59" y2="355" stroke="#4a4a4a" stroke-width="0.8" />
<line x1="145.59" y1="224.5" x2="145.59" y2="225.8" stroke="#4a4a4a" stroke-width="0.8" />
<line x1="148.86" y1="356.3" x2="148.86" y2="355" stroke="#4a4a4a" stroke-width="0.8" />
<line x1="148.86" y1="224.5" x2="148.86" y2="225.8" stroke="#4a4a4a" stroke-width="0.8" />
<line x1="152.13" y1="356.3" x2="152.13" y2="355" stroke="#4a4a4a" stroke-width="0.8" />
<line x1="152.13" y1="224.5" x2="152.13" y2="225.8" stroke="#4a4a4a" stroke-width="0.8" />
<line x1="155.4" y1="356.3" x2="155.4" y2="355" stroke="#4a4a4a" stroke-width="0.8" />
<line x1="155.4" y1="224.5" x2="155.4" y2="225.8" stroke="#4a4a4a" stroke-width="0.8" />
<line x1="158.68" y1="356.3" x2="158.68" y2="355" stroke="#4a4a4a" stroke-width="0.8" />
<line x1="158.68" y1="224.5" x2="158.68" y2="225.8" stroke="#4a4a4a" stroke-width="0.8" />
<line x1="161.95" y1="356.3" x2="161.95" y2="355" stroke="#4a4a4a" stroke-width="0.8" />
<line x1="161.95" y1="224.5" x2="161.95" y2="225.8" stroke="#4a4a4a" stroke-width="0.8" />
<line x1="165.22" y1="356.3" x2="165.22" y2="354.1" stroke="#4a4a4a" stroke-width="0.8" />
<line x1="165.22" y1="224.5" x2="165.22" y2="226.7" stroke="#4a4a4a" stroke-width="0.8" />
<line x1="168.49" y1="356.3" x2="168.49" y2="355" stroke="#4a4a4a" stroke-width="0.8" />
<line x1="168.49" y1="224.5" x2="168.49" y2="225.8" stroke="#4a4a4a" stroke-width="0.8" />
<line x1="171.76" y1="356.3" x2="171.76" y2="355" stroke="#4a4a4a" stroke-width="0.8" />
<line x1="171.76" y1="224.5" x2="171.76" y2="225.8" stroke="#4a4a4a" stroke-width="0.8" />
<line x1="175.04" y1="356.3" x2="175.04" y2="355" stroke="#4a4a4a" stroke-width="0.8" />
<line x1="175.04" y1="224.5" x2="175.04" y2="225.8" stroke="#4a4a4a" stroke-width="0.8" />
<line x1="178.31" y1="356.3" x2="178.31" y2="355" stroke="#4a4a4a" stroke-width="0.8" />
<line x1="178.31" y1="224.5" x2="178.31" y2="225.8" stroke="#4a4a4a" stroke-width="0.8" />
<line x1="181.58" y1="356.3" x2="181.58" y2="355" stroke="#4a4a4a" stroke-width="0.8" />
<line x1="181.58" y1="224.5" x2="181.58" y2="225.8" stroke="#4a4a4a" stroke-width="0.8" />
<line x1="184.85" y1="356.3" x2="184.85" y2="355" stroke="#4a4a4a" stroke-width="0.8" />
<line x1="184.85" y1="224.5" x2="184.85" y2="225.8" stroke="#4a4a4a" stroke-width="0.8" />
<line x1="188.12" y1="356.3" x2="188.12" y2="355" stroke="#4a4a4a" stroke-width="0.8" />
<line x1="188.12" y1="224.5" x2="188.12" y2="225.8" stroke="#4a4a4a" stroke-width="0.8" />
<line x1="191.4" y1="356.3" x2="191.4" y2="355" stroke="#4a4a4a" stroke-width="0.8" />
<line x1="191.4" y1="224.5" x2="191.4" y2="225.8" stroke="#4a4a4a" stroke-width="0.8" />
<line x1="194.67" y1="356.3" x2="194.67" y2="355" stroke="#4a4a4a" stroke-width="0.8" />
<line x1="194.67" y1="224.5" x2="194.67" y2="225.8" stroke="#4a4a4a" stroke-width="0.8" />
<line x1="197.94" y1="356.3" x2="197.94" y2="354.1" stroke="#4a4a4a" stroke-width="0.8" />
<line x1="197.94" y1="224.5" x2="197.94" y2="226.7" stroke="#4a4a4a" stroke-width="0.8" />
<line x1="201.21" y1="356.3" x2="201.21" y2="355" stroke="#4a4a4a" stroke-width="0.8" />
<line x1="201.21" y1="224.5" x2="201.21" y2="225.8" stroke="#4a4a4a" stroke-width="0.8" />
<line x1="204.48" y1="356.3" x2="204.48" y2="355" stroke="#4a4a4a" stroke-width="0.8" />
<line x1="204.48" y1="224.5" x2="204.48" y2="225.8" stroke="#4a4a4a" stroke-width="0.8" />
<line x1="207.76" y1="356.3" x2="207.76" y2="355" stroke="#4a4a4a" stroke-width="0.8" />
<line x1="207.76" y1="224.5" x2="207.76" y2="225.8" stroke="#4a4a4a" stroke-width="0.8" />
<line x1="211.03" y1="356.3" x2="211.03" y2="355" stroke="#4a4a4a" stroke-width="0.8" />
<line x1="211.03" y1="224.5" x2="211.03" y2="225.8" stroke="#4a4a4a" stroke-width="0.8" />
<line x1="214.3" y1="356.3" x2="214.3" y2="355" stroke="#4a4a4a" stroke-width="0.8" />
<line x1="214.3" y1="224.5" x2="214.3" y2="225.8" stroke="#4a4a4a" stroke-width="0.8" />
<line x1="50.6" y1="355.95" x2="52.8" y2="355.95" stroke="#4a4a4a" stroke-width="0.8" />
<line x1="214.2" y1="355.95" x2="212" y2="355.95" stroke="#4a4a4a" stroke-width="0.8" />
<line x1="48.8" y1="355.95" x2="50.6" y2="355.95" stroke="#4a4a4a" stroke-width="0.8" />
<line x1="50.6" y1="352.02" x2="51.9" y2="352.02" stroke="#4a4a4a" stroke-width="0.8" />
<line x1="214.2" y1="352.02" x2="212.9" y2="352.02" stroke="#4a4a4a" stroke-width="0.8" />
<line x1="50.6" y1="348.09" x2="51.9" y2="348.09" stroke="#4a4a4a" stroke-width="0.8" />
<line x1="214.2" y1="348.09" x2="212.9" y2="348.09" stroke="#4a4a4a" stroke-width="0.8" />
<line x1="50.6" y1="344.16" x2="51.9" y2="344.16" stroke="#4a4a4a" stroke-width="0.8" />
<line x1="214.2" y1="344.16" x2="212.9" y2="344.16" stroke="#4a4a4a" stroke-width="0.8" />
<line x1="50.6" y1="340.23" x2="51.9" y2="340.23" stroke="#4a4a4a" stroke-width="0.8" />
<line x1="214.2" y1="340.23" x2="212.9" y2="340.23" stroke="#4a4a4a" stroke-width="0.8" />
<line x1="50.6" y1="336.3" x2="52.8" y2="336.3" stroke="#4a4a4a" stroke-width="0.8" />
<line x1="214.2" y1="336.3" x2="212" y2="336.3" stroke="#4a4a4a" stroke-width="0.8" />
<line x1="48.8" y1="336.3" x2="50.6" y2="336.3" stroke="#4a4a4a" stroke-width="0.8" />
<line x1="50.6" y1="332.37" x2="51.9" y2="332.37" stroke="#4a4a4a" stroke-width="0.8" />
<line x1="214.2" y1="332.37" x2="212.9" y2="332.37" stroke="#4a4a4a" stroke-width="0.8" />
<line x1="50.6" y1="328.44" x2="51.9" y2="328.44" stroke="#4a4a4a" stroke-width="0.8" />
<line x1="214.2" y1="328.44" x2="212.9" y2="328.44" stroke="#4a4a4a" stroke-width="0.8" />
<line x1="50.6" y1="324.51" x2="51.9" y2="324.51" stroke="#4a4a4a" stroke-width="0.8" />
<line x1="214.2" y1="324.51" x2="212.9" y2="324.51" stroke="#4a4a4a" stroke-width="0.8" />
<line x1="50.6" y1="320.58" x2="51.9" y2="320.58" stroke="#4a4a4a" stroke-width="0.8" />
<line x1="214.2" y1="320.58" x2="212.9" y2="320.58" stroke="#4a4a4a" stroke-width="0.8" />
<line x1="50.6" y1="316.65" x2="52.8" y2="316.65" stroke="#4a4a4a" stroke-width="0.8" />
<line x1="214.2" y1="316.65" x2="212" y2="316.65" stroke="#4a4a4a" stroke-width="0.8" />
<line x1="48.8" y1="316.65" x2="50.6" y2="316.65" stroke="#4a4a4a" stroke-width="0.8" />
<line x1="50.6" y1="312.72" x2="51.9" y2="312.72" stroke="#4a4a4a" stroke-width="0.8" />
<line x1="214.2" y1="312.72" x2="212.9" y2="312.72" stroke="#4a4a4a" stroke-width="0.8" />
<line x1="50.6" y1="308.79" x2="51.9" y2="308.79" stroke="#4a4a4a" stroke-width="0.8" />
<line x1="214.2" y1="308.79" x2="212.9" y2="308.79" stroke="#4a4a4a" stroke-width="0.8" />
<line x1="50.6" y1="304.86" x2="51.9" y2="304.86" stroke="#4a4a4a" stroke-width="0.8" />
<line x1="214.2" y1="304.86" x2="212.9" y2="304.86" stroke="#4a4a4a" stroke-width="0.8" />
<line x1="50.6" y1="300.93" x2="51.9" y2="300.93" stroke="#4a4a4a" stroke-width="0.8" />
<line x1="214.2" y1="300.93" x2="212.9" y2="300.93" stroke="#4a4a4a" stroke-width="0.8" />
<line x1="50.6" y1="297" x2="52.8" y2="297" stroke="#4a4a4a" stroke-width="0.8" />
<line x1="214.2" y1="297" x2="212" y2="297" stroke="#4a4a4a" stroke-width="0.8" />
<line x1="48.8" y1="297" x2="50.6" y2="297" stroke="#4a4a4a" stroke-width="0.8" />
<line x1="50.6" y1="293.07" x2="51.9" y2="293.07" stroke="#4a4a4a" stroke-width="0.8" />
<line x1="214.2" y1="293.07" x2="212.9" y2="293.07" stroke="#4a4a4a" stroke-width="0.8" />
<line x1="50.6" y1="289.14" x2="51.9" y2="289.14" stroke="#4a4a4a" stroke-width="0.8" />
<line x1="214.2" y1="289.14" x2="212.9" y2="289.14" stroke="#4a4a4a" stroke-width="0.8" />
<line x1="50.6" y1="285.21" x2="51.9" y2="285.21" stroke="#4a4a4a" stroke-width="0.8" />
<line x1="214.2" y1="285.21" x2="212.9" y2="285.21" stroke="#4a4a4a" stroke-width="0.8" />
<line x1="50.6" y1="281.28" x2="51.9" y2="281.28" stroke="#4a4a4a" stroke-width="0.8" />
<line x1="214.2" y1="281.28" x2="212.9" y2="281.28" stroke="#4a4a4a" stroke-width="0.8" />
<line x1="50.6" y1="277.35" x2="52.8" y2="277.35" stroke="#4a4a4a" stroke-width="0.8" />
<line x1="214.2" y1="277.35" x2="212" y2="277.35" stroke="#4a4a4a" stroke-width="0.8" />
<line x1="48.8" y1="277.35" x2="50.6" y2="277.35" stroke="#4a4a4a" stroke-width="0.8" />
<line x1="50.6" y1="273.42" x2="51.9" y2="273.42" stroke="#4a4a4a" stroke-width="0.8" />
<line x1="214.2" y1="273.42" x2="212.9" y2="273.42" stroke="#4a4a4a" stroke-width="0.8" />
<line x1="50.6" y1="269.49" x2="51.9" y2="269.49" stroke="#4a4a4a" stroke-width="0.8" />
<line x1="214.2" y1="269.49" x2="212.9" y2="269.49" stroke="#4a4a4a" stroke-width="0.8" />
<line x1="50.6" y1="265.56" x2="51.9" y2="265.56" stroke="#4a4a4a" stroke-width="0.8" />
<line x1="214.2" y1="265.56" x2="212.9" y2="265.56" stroke="#4a4a4a" stroke-width="0.8" />
<line x1="50.6" y1="261.63" x2="51.9" y2="261.63" stroke="#4a4a4a" stroke-width="0.8" />
<line x1="214.2" y1="261.63" x2="212.9" y2="261.63" stroke="#4a4a4a" stroke-width="0.8" />
<line x1="50.6" y1="257.7" x2="52.8" y2="257.7" stroke="#4a4a4a" stroke-width="0.8" />
<line x1="214.2" y1="257.7" x2="212" y2="257.7" stroke="#4a4a4a" stroke-width="0.8" />
<line x1="48.8" y1="257.7" x2="50.6" y2="257.7" stroke="#4a4a4a" stroke-width="0.8" />
<line x1="50.6" y1="253.77" x2="51.9" y2="253.77" stroke="#4a4a4a" stroke-width="0.8" />
<line x1="214.2" y1="253.77" x2="212.9" y2="253.77" stroke="#4a4a4a" stroke-width="0.8" />
<line x1="50.6" y1="249.84" x2="51.9" y2="249.84" stroke="#4a4a4a" stroke-width="0.8" />
<line x1="214.2" y1="249.84" x2="212.9" y2="249.84" stroke="#4a4a4a" stroke-width="0.8" />
<line x1="50.6" y1="245.91" x2="51.9" y2="245.91" stroke="#4a4a4a" stroke-width="0.8" />
<line x1="214.2" y1="245.91" x2="212.9" y2="245.91" stroke="#4a4a4a" stroke-width="0.8" />
<line x1="50.6" y1="241.98" x2="51.9" y2="241.98" stroke="#4a4a4a" stroke-width="0.8" />
<line x1="214.2" y1="241.98" x2="212.9" y2="241.98" stroke="#4a4a4a" stroke-width="0.8" />
<line x1="50.6" y1="238.05" x2="52.8" y2="238.05" stroke="#4a4a4a" stroke-width="0.8" />
<line x1="214.2" y1="238.05" x2="212" y2="238.05" stroke="#4a4a4a" stroke-width="0.8" />
<line x1="48.8" y1="238.05" x2="50.6" y2="238.05" stroke="#4a4a4a" stroke-width="0.8" />
<line x1="50.6" y1="234.12" x2="51.9" y2="234.12" stroke="#4a4a4a" stroke-width="0.8" />
<line x1="214.2" y1="234.12" x2="212.9" y2="234.12" stroke="#4a4a4a" stroke-width="0.8" />
<line x1="50.6" y1="230.19" x2="51.9" y2="230.19" stroke="#4a4a4a" stroke-width="0.8" />
<line x1="214.2" y1="230.19" x2="212.9" y2="230.19" stroke="#4a4a4a" stroke-width="0.8" />
<line x1="50.6" y1="226.26" x2="51.9" y2="226.26" stroke="#4a4a4a" stroke-width="0.8" />
<line x1="214.2" y1="226.26" x2="212.9" y2="226.26" stroke="#4a4a4a" stroke-width="0.8" />
<text x="67.06" y="367.3" font-size="8" font-weight="bold" text-anchor="middle" fill="#1a1a1a" font-family='"Liberation Sans", sans-serif' stroke="#1a1a1a" stroke-width="0.2" >-2</text>
<text x="99.78" y="367.3" font-size="8" font-weight="bold" text-anchor="middle" fill="#1a1a1a" font-family='"Liberation Sans", sans-serif' stroke="#1a1a1a" stroke-width="0.2" >-1</text>
<text x="132.5" y="367.3" font-size="8" font-weight="bold" text-anchor="middle" fill="#1a1a1a" font-family='"Liberation Sans", sans-serif' stroke="#1a1a1a" stroke-width="0.2" >0</text>
<text x="165.22" y="367.3" font-size="8" font-weight="bold" text-anchor="middle" fill="#1a1a1a" font-family='"Liberation Sans", sans-serif' stroke="#1a1a1a" stroke-width="0.2" >1</text>
<text x="197.94" y="367.3" font-size="8" font-weight="bold" text-anchor="middle" fill="#1a1a1a" font-family='"Liberation Sans", sans-serif' stroke="#1a1a1a" stroke-width="0.2" >2</text>
<text x="68.06" y="219.8" font-size="8.5" font-weight="bold" text-anchor="middle" fill="#1a1a1a" font-family='"Liberation Sans", sans-serif' stroke="#1a1a1a" stroke-width="0.2" >-7.41</text>
<text x="100.78" y="219.8" font-size="8.5" font-weight="bold" text-anchor="middle" fill="#1a1a1a" font-family='"Liberation Sans", sans-serif' stroke="#1a1a1a" stroke-width="0.2" >-6.41</text>
<text x="133.5" y="219.8" font-size="8.5" font-weight="bold" text-anchor="middle" fill="#1a1a1a" font-family='"Liberation Sans", sans-serif' stroke="#1a1a1a" stroke-width="0.2" >-5.41</text>
<text x="166.22" y="219.8" font-size="8.5" font-weight="bold" text-anchor="middle" fill="#1a1a1a" font-family='"Liberation Sans", sans-serif' stroke="#1a1a1a" stroke-width="0.2" >-4.41</text>
<text x="198.94" y="219.8" font-size="8.5" font-weight="bold" text-anchor="middle" fill="#1a1a1a" font-family='"Liberation Sans", sans-serif' stroke="#1a1a1a" stroke-width="0.2" >-3.41</text>
<text x="46.6" y="240.45" font-size="8.5" font-weight="bold" text-anchor="end" fill="#1a1a1a" font-family='"Liberation Sans", sans-serif' textLength="26" lengthAdjust="spacingAndGlyphs" stroke="#1a1a1a" stroke-width="0.2" >2.5x10<tspan font-size="5.949999999999999" dy="-3.5">4</tspan></text>
<text x="46.6" y="260.1" font-size="8.5" font-weight="bold" text-anchor="end" fill="#1a1a1a" font-family='"Liberation Sans", sans-serif' textLength="20.5" lengthAdjust="spacingAndGlyphs" stroke="#1a1a1a" stroke-width="0.2" >2x10<tspan font-size="5.949999999999999" dy="-3.5">4</tspan></text>
<text x="46.6" y="279.75" font-size="8.5" font-weight="bold" text-anchor="end" fill="#1a1a1a" font-family='"Liberation Sans", sans-serif' textLength="26" lengthAdjust="spacingAndGlyphs" stroke="#1a1a1a" stroke-width="0.2" >1.5x10<tspan font-size="5.949999999999999" dy="-3.5">4</tspan></text>
<text x="46.6" y="299.4" font-size="8.5" font-weight="bold" text-anchor="end" fill="#1a1a1a" font-family='"Liberation Sans", sans-serif' textLength="20.5" lengthAdjust="spacingAndGlyphs" stroke="#1a1a1a" stroke-width="0.2" >1x10<tspan font-size="5.949999999999999" dy="-3.5">4</tspan></text>
<text x="46.6" y="319.05" font-size="8.5" font-weight="bold" text-anchor="end" fill="#1a1a1a" font-family='"Liberation Sans", sans-serif' textLength="20.5" lengthAdjust="spacingAndGlyphs" stroke="#1a1a1a" stroke-width="0.2" >5x10<tspan font-size="5.949999999999999" dy="-3.5">3</tspan></text>
<text x="45.2" y="338.9" font-size="8.5" font-weight="bold" text-anchor="end" fill="#1a1a1a" font-family='"Liberation Sans", sans-serif' stroke="#1a1a1a" stroke-width="0.2" >0</text>
<text x="46.6" y="358.35" font-size="8.5" font-weight="bold" text-anchor="end" fill="#1a1a1a" font-family='"Liberation Sans", sans-serif' textLength="22.4" lengthAdjust="spacingAndGlyphs" stroke="#1a1a1a" stroke-width="0.2" >-5x10<tspan font-size="5.949999999999999" dy="-3.5">3</tspan></text>
<text x="132" y="209.2" font-size="10.5" font-weight="bold" text-anchor="middle" fill="#1a1a1a" font-family='"Liberation Sans", sans-serif' textLength="119" lengthAdjust="spacingAndGlyphs" stroke="#1a1a1a" stroke-width="0.2" >chemical potential, μ (eV)</text>
<text x="132.8" y="377" font-size="10" font-weight="bold" text-anchor="middle" fill="#1a1a1a" font-family='"Liberation Sans", sans-serif' textLength="46" lengthAdjust="spacingAndGlyphs" stroke="#1a1a1a" stroke-width="0.2" >μ - μ<tspan font-size="6.5" dy="2">0</tspan><tspan dy="-2"> (eV)</tspan></text>
<text x="15.9" y="292" font-size="9.6" font-weight="bold" text-anchor="middle" fill="#1a1a1a" font-family='"Liberation Sans", sans-serif' textLength="122" lengthAdjust="spacingAndGlyphs" transform="rotate(-90 15.9 292)" stroke="#1a1a1a" stroke-width="0.2" >carrier mobility [cm<tspan font-size="6.5" dy="-3.5">2</tspan><tspan dy="3.5">.(Vs)</tspan><tspan font-size="6.5" dy="-3.5">-1</tspan><tspan dy="3.5">]</tspan></text>
<text x="131.8" y="398.2" font-size="16.5" font-weight="bold" text-anchor="middle" fill="#111" font-family='"Liberation Serif", serif' textLength="20.4" lengthAdjust="spacingAndGlyphs" >(c)</text>
<rect x="63.3" y="240.5" width="41.2" height="23.2" fill="#fff" stroke="#bbb" stroke-width="0.8"/>
<line x1="64.5" y1="247.4" x2="80" y2="247.4" stroke="#ff4040" stroke-width="1.1" />
<line x1="64.5" y1="258.3" x2="80" y2="258.3" stroke="#1010ff" stroke-width="1.8" />
<text x="82.2" y="250.3" font-size="7.5" font-weight="bold" text-anchor="start" fill="#1a1a1a" font-family='"Liberation Sans", sans-serif' textLength="13.5" lengthAdjust="spacingAndGlyphs" stroke="#1a1a1a" stroke-width="0.2" >DFT</text>
<text x="82.2" y="261.2" font-size="7.5" font-weight="bold" text-anchor="start" fill="#1a1a1a" font-family='"Liberation Sans", sans-serif' textLength="21" lengthAdjust="spacingAndGlyphs" stroke="#1a1a1a" stroke-width="0.2" >HSE06</text>
<path d="M50.6,338.6 C51.5,338.58 54.1,338.6 56,338.5 C57.9,338.4 59.67,338.15 62,338 C64.33,337.85 67.33,337.63 70,337.6 C72.67,337.57 75.33,337.75 78,337.8 C80.67,337.85 83.67,337.83 86,337.9 C88.33,337.97 90,337.92 92,338.2 C94,338.48 96,338.97 98,339.6 C100,340.23 102,341.2 104,342 C106,342.8 107.72,343.57 110,344.4 C112.28,345.23 116.42,346.57 117.7,347 L117.7,336.3 L152.6,336.3 L152.6,236.9 L152.6,236.9 C152.82,238 153.5,241.32 153.9,243.5 C154.3,245.68 154.58,247.83 155,250 C155.42,252.17 155.85,254.33 156.4,256.5 C156.95,258.67 157.57,260.87 158.3,263 C159.03,265.13 159.85,267.33 160.8,269.3 C161.75,271.27 162.85,273.08 164,274.8 C165.15,276.52 166.2,277.9 167.7,279.6 C169.2,281.3 171.07,283.22 173,285 C174.93,286.78 177.3,288.72 179.3,290.3 C181.3,291.88 183.07,293.22 185,294.5 C186.93,295.78 188.73,296.82 190.9,298 C193.07,299.18 195.48,300.43 198,301.6 C200.52,302.77 203.3,303.92 206,305 C208.7,306.08 212.83,307.58 214.2,308.1" stroke="#ff3030" stroke-width="1.1" fill="none" />
<path d="M50.6,338.3 C51.5,338.28 54.1,338.28 56,338.2 C57.9,338.12 59.67,337.93 62,337.8 C64.33,337.67 67.33,337.43 70,337.4 C72.67,337.37 75.33,337.57 78,337.6 C80.67,337.63 83.67,337.52 86,337.6 C88.33,337.68 90,337.77 92,338.1 C94,338.43 96,339.07 98,339.6 C100,340.13 101.8,340.68 104,341.3 C106.2,341.92 110,342.97 111.2,343.3 L111.2,336.3 L190.8,336.3 L190.8,285.2 L200.1,294.3 L207,299.8 L214.2,304.5" stroke="#0a14ff" stroke-width="1.6" fill="none" stroke-linejoin="miter"/>
<text x="82.6" y="353.8" font-size="19" font-weight="normal" text-anchor="middle" fill="#111" font-family='"Liberation Serif", serif' font-style="italic" >h</text>
<text x="92.1" y="347.8" font-size="13.5" font-weight="normal" text-anchor="middle" fill="#111" font-family='"Liberation Serif", serif' stroke="#111" stroke-width="0.5">+</text>
<text x="185.6" y="286.2" font-size="17" font-weight="normal" text-anchor="middle" fill="#111" font-family='"Liberation Serif", serif' font-style="italic" >e</text>
<line x1="182.8" y1="274.8" x2="188.6" y2="274.8" stroke="#111" stroke-width="0.9" />
<rect x="281.3" y="197.1" width="189.7" height="152.79999999999998" fill="none" stroke="#4a4a4a" stroke-width="1"/>
<line x1="281.3" y1="349.9" x2="281.3" y2="347.7" stroke="#4a4a4a" stroke-width="0.8" />
<line x1="281.3" y1="197.1" x2="281.3" y2="199.3" stroke="#4a4a4a" stroke-width="0.8" />
<line x1="287.62" y1="349.9" x2="287.62" y2="348.6" stroke="#4a4a4a" stroke-width="0.8" />
<line x1="287.62" y1="197.1" x2="287.62" y2="198.4" stroke="#4a4a4a" stroke-width="0.8" />
<line x1="293.95" y1="349.9" x2="293.95" y2="348.6" stroke="#4a4a4a" stroke-width="0.8" />
<line x1="293.95" y1="197.1" x2="293.95" y2="198.4" stroke="#4a4a4a" stroke-width="0.8" />
<line x1="300.27" y1="349.9" x2="300.27" y2="348.6" stroke="#4a4a4a" stroke-width="0.8" />
<line x1="300.27" y1="197.1" x2="300.27" y2="198.4" stroke="#4a4a4a" stroke-width="0.8" />
<line x1="306.59" y1="349.9" x2="306.59" y2="348.6" stroke="#4a4a4a" stroke-width="0.8" />
<line x1="306.59" y1="197.1" x2="306.59" y2="198.4" stroke="#4a4a4a" stroke-width="0.8" />
<line x1="312.92" y1="349.9" x2="312.92" y2="347.7" stroke="#4a4a4a" stroke-width="0.8" />
<line x1="312.92" y1="197.1" x2="312.92" y2="199.3" stroke="#4a4a4a" stroke-width="0.8" />
<line x1="319.24" y1="349.9" x2="319.24" y2="348.6" stroke="#4a4a4a" stroke-width="0.8" />
<line x1="319.24" y1="197.1" x2="319.24" y2="198.4" stroke="#4a4a4a" stroke-width="0.8" />
<line x1="325.56" y1="349.9" x2="325.56" y2="348.6" stroke="#4a4a4a" stroke-width="0.8" />
<line x1="325.56" y1="197.1" x2="325.56" y2="198.4" stroke="#4a4a4a" stroke-width="0.8" />
<line x1="331.89" y1="349.9" x2="331.89" y2="348.6" stroke="#4a4a4a" stroke-width="0.8" />
<line x1="331.89" y1="197.1" x2="331.89" y2="198.4" stroke="#4a4a4a" stroke-width="0.8" />
<line x1="338.21" y1="349.9" x2="338.21" y2="348.6" stroke="#4a4a4a" stroke-width="0.8" />
<line x1="338.21" y1="197.1" x2="338.21" y2="198.4" stroke="#4a4a4a" stroke-width="0.8" />
<line x1="344.53" y1="349.9" x2="344.53" y2="347.7" stroke="#4a4a4a" stroke-width="0.8" />
<line x1="344.53" y1="197.1" x2="344.53" y2="199.3" stroke="#4a4a4a" stroke-width="0.8" />
<line x1="350.86" y1="349.9" x2="350.86" y2="348.6" stroke="#4a4a4a" stroke-width="0.8" />
<line x1="350.86" y1="197.1" x2="350.86" y2="198.4" stroke="#4a4a4a" stroke-width="0.8" />
<line x1="357.18" y1="349.9" x2="357.18" y2="348.6" stroke="#4a4a4a" stroke-width="0.8" />
<line x1="357.18" y1="197.1" x2="357.18" y2="198.4" stroke="#4a4a4a" stroke-width="0.8" />
<line x1="363.5" y1="349.9" x2="363.5" y2="348.6" stroke="#4a4a4a" stroke-width="0.8" />
<line x1="363.5" y1="197.1" x2="363.5" y2="198.4" stroke="#4a4a4a" stroke-width="0.8" />
<line x1="369.83" y1="349.9" x2="369.83" y2="348.6" stroke="#4a4a4a" stroke-width="0.8" />
<line x1="369.83" y1="197.1" x2="369.83" y2="198.4" stroke="#4a4a4a" stroke-width="0.8" />
<line x1="376.15" y1="349.9" x2="376.15" y2="347.7" stroke="#4a4a4a" stroke-width="0.8" />
<line x1="376.15" y1="197.1" x2="376.15" y2="199.3" stroke="#4a4a4a" stroke-width="0.8" />
<line x1="382.47" y1="349.9" x2="382.47" y2="348.6" stroke="#4a4a4a" stroke-width="0.8" />
<line x1="382.47" y1="197.1" x2="382.47" y2="198.4" stroke="#4a4a4a" stroke-width="0.8" />
<line x1="388.8" y1="349.9" x2="388.8" y2="348.6" stroke="#4a4a4a" stroke-width="0.8" />
<line x1="388.8" y1="197.1" x2="388.8" y2="198.4" stroke="#4a4a4a" stroke-width="0.8" />
<line x1="395.12" y1="349.9" x2="395.12" y2="348.6" stroke="#4a4a4a" stroke-width="0.8" />
<line x1="395.12" y1="197.1" x2="395.12" y2="198.4" stroke="#4a4a4a" stroke-width="0.8" />
<line x1="401.44" y1="349.9" x2="401.44" y2="348.6" stroke="#4a4a4a" stroke-width="0.8" />
<line x1="401.44" y1="197.1" x2="401.44" y2="198.4" stroke="#4a4a4a" stroke-width="0.8" />
<line x1="407.77" y1="349.9" x2="407.77" y2="347.7" stroke="#4a4a4a" stroke-width="0.8" />
<line x1="407.77" y1="197.1" x2="407.77" y2="199.3" stroke="#4a4a4a" stroke-width="0.8" />
<line x1="414.09" y1="349.9" x2="414.09" y2="348.6" stroke="#4a4a4a" stroke-width="0.8" />
<line x1="414.09" y1="197.1" x2="414.09" y2="198.4" stroke="#4a4a4a" stroke-width="0.8" />
<line x1="420.41" y1="349.9" x2="420.41" y2="348.6" stroke="#4a4a4a" stroke-width="0.8" />
<line x1="420.41" y1="197.1" x2="420.41" y2="198.4" stroke="#4a4a4a" stroke-width="0.8" />
<line x1="426.74" y1="349.9" x2="426.74" y2="348.6" stroke="#4a4a4a" stroke-width="0.8" />
<line x1="426.74" y1="197.1" x2="426.74" y2="198.4" stroke="#4a4a4a" stroke-width="0.8" />
<line x1="433.06" y1="349.9" x2="433.06" y2="348.6" stroke="#4a4a4a" stroke-width="0.8" />
<line x1="433.06" y1="197.1" x2="433.06" y2="198.4" stroke="#4a4a4a" stroke-width="0.8" />
<line x1="439.38" y1="349.9" x2="439.38" y2="347.7" stroke="#4a4a4a" stroke-width="0.8" />
<line x1="439.38" y1="197.1" x2="439.38" y2="199.3" stroke="#4a4a4a" stroke-width="0.8" />
<line x1="445.71" y1="349.9" x2="445.71" y2="348.6" stroke="#4a4a4a" stroke-width="0.8" />
<line x1="445.71" y1="197.1" x2="445.71" y2="198.4" stroke="#4a4a4a" stroke-width="0.8" />
<line x1="452.03" y1="349.9" x2="452.03" y2="348.6" stroke="#4a4a4a" stroke-width="0.8" />
<line x1="452.03" y1="197.1" x2="452.03" y2="198.4" stroke="#4a4a4a" stroke-width="0.8" />
<line x1="458.35" y1="349.9" x2="458.35" y2="348.6" stroke="#4a4a4a" stroke-width="0.8" />
<line x1="458.35" y1="197.1" x2="458.35" y2="198.4" stroke="#4a4a4a" stroke-width="0.8" />
<line x1="464.68" y1="349.9" x2="464.68" y2="348.6" stroke="#4a4a4a" stroke-width="0.8" />
<line x1="464.68" y1="197.1" x2="464.68" y2="198.4" stroke="#4a4a4a" stroke-width="0.8" />
<line x1="471" y1="349.9" x2="471" y2="347.7" stroke="#4a4a4a" stroke-width="0.8" />
<line x1="471" y1="197.1" x2="471" y2="199.3" stroke="#4a4a4a" stroke-width="0.8" />
<line x1="278.9" y1="349.2" x2="281.3" y2="349.2" stroke="#4a4a4a" stroke-width="0.8" />
<line x1="279.9" y1="342.39" x2="281.3" y2="342.39" stroke="#4a4a4a" stroke-width="0.8" />
<line x1="279.9" y1="335.58" x2="281.3" y2="335.58" stroke="#4a4a4a" stroke-width="0.8" />
<line x1="279.9" y1="328.77" x2="281.3" y2="328.77" stroke="#4a4a4a" stroke-width="0.8" />
<line x1="279.9" y1="321.96" x2="281.3" y2="321.96" stroke="#4a4a4a" stroke-width="0.8" />
<line x1="278.9" y1="315.15" x2="281.3" y2="315.15" stroke="#4a4a4a" stroke-width="0.8" />
<line x1="279.9" y1="308.34" x2="281.3" y2="308.34" stroke="#4a4a4a" stroke-width="0.8" />
<line x1="279.9" y1="301.53" x2="281.3" y2="301.53" stroke="#4a4a4a" stroke-width="0.8" />
<line x1="279.9" y1="294.72" x2="281.3" y2="294.72" stroke="#4a4a4a" stroke-width="0.8" />
<line x1="279.9" y1="287.91" x2="281.3" y2="287.91" stroke="#4a4a4a" stroke-width="0.8" />
<line x1="278.9" y1="281.1" x2="281.3" y2="281.1" stroke="#4a4a4a" stroke-width="0.8" />
<line x1="279.9" y1="274.29" x2="281.3" y2="274.29" stroke="#4a4a4a" stroke-width="0.8" />
<line x1="279.9" y1="267.48" x2="281.3" y2="267.48" stroke="#4a4a4a" stroke-width="0.8" />
<line x1="279.9" y1="260.67" x2="281.3" y2="260.67" stroke="#4a4a4a" stroke-width="0.8" />
<line x1="279.9" y1="253.86" x2="281.3" y2="253.86" stroke="#4a4a4a" stroke-width="0.8" />
<line x1="278.9" y1="247.05" x2="281.3" y2="247.05" stroke="#4a4a4a" stroke-width="0.8" />
<line x1="279.9" y1="240.24" x2="281.3" y2="240.24" stroke="#4a4a4a" stroke-width="0.8" />
<line x1="279.9" y1="233.43" x2="281.3" y2="233.43" stroke="#4a4a4a" stroke-width="0.8" />
<line x1="279.9" y1="226.62" x2="281.3" y2="226.62" stroke="#4a4a4a" stroke-width="0.8" />
<line x1="279.9" y1="219.81" x2="281.3" y2="219.81" stroke="#4a4a4a" stroke-width="0.8" />
<line x1="278.9" y1="213" x2="281.3" y2="213" stroke="#4a4a4a" stroke-width="0.8" />
<line x1="279.9" y1="206.19" x2="281.3" y2="206.19" stroke="#4a4a4a" stroke-width="0.8" />
<line x1="279.9" y1="199.38" x2="281.3" y2="199.38" stroke="#4a4a4a" stroke-width="0.8" />
<line x1="471" y1="196.7" x2="468.8" y2="196.7" stroke="#4a4a4a" stroke-width="0.8" />
<line x1="471" y1="196.7" x2="472.8" y2="196.7" stroke="#4a4a4a" stroke-width="0.8" />
<line x1="471" y1="203.63" x2="469.7" y2="203.63" stroke="#4a4a4a" stroke-width="0.8" />
<line x1="471" y1="210.56" x2="469.7" y2="210.56" stroke="#4a4a4a" stroke-width="0.8" />
<line x1="471" y1="217.49" x2="469.7" y2="217.49" stroke="#4a4a4a" stroke-width="0.8" />
<line x1="471" y1="224.42" x2="469.7" y2="224.42" stroke="#4a4a4a" stroke-width="0.8" />
<line x1="471" y1="231.35" x2="468.8" y2="231.35" stroke="#4a4a4a" stroke-width="0.8" />
<line x1="471" y1="231.35" x2="472.8" y2="231.35" stroke="#4a4a4a" stroke-width="0.8" />
<line x1="471" y1="238.28" x2="469.7" y2="238.28" stroke="#4a4a4a" stroke-width="0.8" />
<line x1="471" y1="245.21" x2="469.7" y2="245.21" stroke="#4a4a4a" stroke-width="0.8" />
<line x1="471" y1="252.14" x2="469.7" y2="252.14" stroke="#4a4a4a" stroke-width="0.8" />
<line x1="471" y1="259.07" x2="469.7" y2="259.07" stroke="#4a4a4a" stroke-width="0.8" />
<line x1="471" y1="266" x2="468.8" y2="266" stroke="#4a4a4a" stroke-width="0.8" />
<line x1="471" y1="266" x2="472.8" y2="266" stroke="#4a4a4a" stroke-width="0.8" />
<line x1="471" y1="272.93" x2="469.7" y2="272.93" stroke="#4a4a4a" stroke-width="0.8" />
<line x1="471" y1="279.86" x2="469.7" y2="279.86" stroke="#4a4a4a" stroke-width="0.8" />
<line x1="471" y1="286.79" x2="469.7" y2="286.79" stroke="#4a4a4a" stroke-width="0.8" />
<line x1="471" y1="293.72" x2="469.7" y2="293.72" stroke="#4a4a4a" stroke-width="0.8" />
<line x1="471" y1="300.65" x2="468.8" y2="300.65" stroke="#4a4a4a" stroke-width="0.8" />
<line x1="471" y1="300.65" x2="472.8" y2="300.65" stroke="#4a4a4a" stroke-width="0.8" />
<line x1="471" y1="307.58" x2="469.7" y2="307.58" stroke="#4a4a4a" stroke-width="0.8" />
<line x1="471" y1="314.51" x2="469.7" y2="314.51" stroke="#4a4a4a" stroke-width="0.8" />
<line x1="471" y1="321.44" x2="469.7" y2="321.44" stroke="#4a4a4a" stroke-width="0.8" />
<line x1="471" y1="328.37" x2="469.7" y2="328.37" stroke="#4a4a4a" stroke-width="0.8" />
<line x1="471" y1="335.3" x2="468.8" y2="335.3" stroke="#4a4a4a" stroke-width="0.8" />
<line x1="471" y1="335.3" x2="472.8" y2="335.3" stroke="#4a4a4a" stroke-width="0.8" />
<line x1="471" y1="342.23" x2="469.7" y2="342.23" stroke="#4a4a4a" stroke-width="0.8" />
<line x1="471" y1="349.16" x2="469.7" y2="349.16" stroke="#4a4a4a" stroke-width="0.8" />
<text x="281.3" y="361.3" font-size="9" font-weight="bold" text-anchor="middle" fill="#1a1a1a" font-family='"Liberation Sans", sans-serif' stroke="#1a1a1a" stroke-width="0.2" >0</text>
<text x="312.92" y="361.3" font-size="9" font-weight="bold" text-anchor="middle" fill="#1a1a1a" font-family='"Liberation Sans", sans-serif' stroke="#1a1a1a" stroke-width="0.2" >2,000</text>
<text x="344.53" y="361.3" font-size="9" font-weight="bold" text-anchor="middle" fill="#1a1a1a" font-family='"Liberation Sans", sans-serif' stroke="#1a1a1a" stroke-width="0.2" >4,000</text>
<text x="376.15" y="361.3" font-size="9" font-weight="bold" text-anchor="middle" fill="#1a1a1a" font-family='"Liberation Sans", sans-serif' stroke="#1a1a1a" stroke-width="0.2" >6,000</text>
<text x="407.77" y="361.3" font-size="9" font-weight="bold" text-anchor="middle" fill="#1a1a1a" font-family='"Liberation Sans", sans-serif' stroke="#1a1a1a" stroke-width="0.2" >8,000</text>
<text x="439.38" y="361.3" font-size="9" font-weight="bold" text-anchor="middle" fill="#1a1a1a" font-family='"Liberation Sans", sans-serif' stroke="#1a1a1a" stroke-width="0.2" >10,000</text>
<text x="471" y="361.3" font-size="9" font-weight="bold" text-anchor="middle" fill="#1a1a1a" font-family='"Liberation Sans", sans-serif' stroke="#1a1a1a" stroke-width="0.2" >12,000</text>
<text x="276.5" y="216.2" font-size="9" font-weight="bold" text-anchor="end" fill="#1a1a1a" font-family='"Liberation Sans", sans-serif' stroke="#1a1a1a" stroke-width="0.2" >200</text>
<text x="276.5" y="250.25" font-size="9" font-weight="bold" text-anchor="end" fill="#1a1a1a" font-family='"Liberation Sans", sans-serif' stroke="#1a1a1a" stroke-width="0.2" >100</text>
<text x="276.5" y="284.3" font-size="9" font-weight="bold" text-anchor="end" fill="#1a1a1a" font-family='"Liberation Sans", sans-serif' stroke="#1a1a1a" stroke-width="0.2" >0</text>
<text x="276.5" y="318.35" font-size="9" font-weight="bold" text-anchor="end" fill="#1a1a1a" font-family='"Liberation Sans", sans-serif' stroke="#1a1a1a" stroke-width="0.2" >-100</text>
<text x="276.5" y="352.4" font-size="9" font-weight="bold" text-anchor="end" fill="#1a1a1a" font-family='"Liberation Sans", sans-serif' stroke="#1a1a1a" stroke-width="0.2" >-200</text>
<text x="475.5" y="199.9" font-size="9" font-weight="bold" text-anchor="start" fill="#1a1a1a" font-family='"Liberation Sans", sans-serif' stroke="#1a1a1a" stroke-width="0.2" >-1</text>
<text x="475.5" y="234.55" font-size="9" font-weight="bold" text-anchor="start" fill="#1a1a1a" font-family='"Liberation Sans", sans-serif' stroke="#1a1a1a" stroke-width="0.2" >-0.5</text>
<text x="475.5" y="269.2" font-size="9" font-weight="bold" text-anchor="start" fill="#1a1a1a" font-family='"Liberation Sans", sans-serif' stroke="#1a1a1a" stroke-width="0.2" >0</text>
<text x="475.5" y="303.85" font-size="9" font-weight="bold" text-anchor="start" fill="#1a1a1a" font-family='"Liberation Sans", sans-serif' stroke="#1a1a1a" stroke-width="0.2" >0.5</text>
<text x="475.5" y="338.5" font-size="9" font-weight="bold" text-anchor="start" fill="#1a1a1a" font-family='"Liberation Sans", sans-serif' stroke="#1a1a1a" stroke-width="0.2" >1</text>
<line x1="511.2" y1="196.5" x2="511.2" y2="349" stroke="#555" stroke-width="0.8" />
<line x1="511.2" y1="196.5" x2="509.8" y2="196.5" stroke="#555" stroke-width="0.6" />
<line x1="511.2" y1="200.5" x2="509.8" y2="200.5" stroke="#555" stroke-width="0.6" />
<line x1="511.2" y1="204.5" x2="509.8" y2="204.5" stroke="#555" stroke-width="0.6" />
<line x1="511.2" y1="208.5" x2="509.8" y2="208.5" stroke="#555" stroke-width="0.6" />
<line x1="511.2" y1="212.5" x2="509.8" y2="212.5" stroke="#555" stroke-width="0.6" />
<line x1="511.2" y1="216.5" x2="509.8" y2="216.5" stroke="#555" stroke-width="0.6" />
<line x1="511.2" y1="220.5" x2="509.8" y2="220.5" stroke="#555" stroke-width="0.6" />
<line x1="511.2" y1="224.5" x2="509.8" y2="224.5" stroke="#555" stroke-width="0.6" />
<line x1="511.2" y1="228.5" x2="509.8" y2="228.5" stroke="#555" stroke-width="0.6" />
<line x1="511.2" y1="232.5" x2="509.8" y2="232.5" stroke="#555" stroke-width="0.6" />
<line x1="511.2" y1="236.5" x2="509.8" y2="236.5" stroke="#555" stroke-width="0.6" />
<line x1="511.2" y1="240.5" x2="509.8" y2="240.5" stroke="#555" stroke-width="0.6" />
<line x1="511.2" y1="244.5" x2="509.8" y2="244.5" stroke="#555" stroke-width="0.6" />
<line x1="511.2" y1="248.5" x2="509.8" y2="248.5" stroke="#555" stroke-width="0.6" />
<line x1="511.2" y1="252.5" x2="509.8" y2="252.5" stroke="#555" stroke-width="0.6" />
<line x1="511.2" y1="256.5" x2="509.8" y2="256.5" stroke="#555" stroke-width="0.6" />
<line x1="511.2" y1="260.5" x2="509.8" y2="260.5" stroke="#555" stroke-width="0.6" />
<line x1="511.2" y1="264.5" x2="509.8" y2="264.5" stroke="#555" stroke-width="0.6" />
<line x1="511.2" y1="268.5" x2="509.8" y2="268.5" stroke="#555" stroke-width="0.6" />
<line x1="511.2" y1="272.5" x2="509.8" y2="272.5" stroke="#555" stroke-width="0.6" />
<line x1="511.2" y1="276.5" x2="509.8" y2="276.5" stroke="#555" stroke-width="0.6" />
<line x1="511.2" y1="280.5" x2="509.8" y2="280.5" stroke="#555" stroke-width="0.6" />
<line x1="511.2" y1="284.5" x2="509.8" y2="284.5" stroke="#555" stroke-width="0.6" />
<line x1="511.2" y1="288.5" x2="509.8" y2="288.5" stroke="#555" stroke-width="0.6" />
<line x1="511.2" y1="292.5" x2="509.8" y2="292.5" stroke="#555" stroke-width="0.6" />
<line x1="511.2" y1="296.5" x2="509.8" y2="296.5" stroke="#555" stroke-width="0.6" />
<line x1="511.2" y1="300.5" x2="509.8" y2="300.5" stroke="#555" stroke-width="0.6" />
<line x1="511.2" y1="304.5" x2="509.8" y2="304.5" stroke="#555" stroke-width="0.6" />
<line x1="511.2" y1="308.5" x2="509.8" y2="308.5" stroke="#555" stroke-width="0.6" />
<line x1="511.2" y1="312.5" x2="509.8" y2="312.5" stroke="#555" stroke-width="0.6" />
<line x1="511.2" y1="316.5" x2="509.8" y2="316.5" stroke="#555" stroke-width="0.6" />
<line x1="511.2" y1="320.5" x2="509.8" y2="320.5" stroke="#555" stroke-width="0.6" />
<line x1="511.2" y1="324.5" x2="509.8" y2="324.5" stroke="#555" stroke-width="0.6" />
<line x1="511.2" y1="328.5" x2="509.8" y2="328.5" stroke="#555" stroke-width="0.6" />
<line x1="511.2" y1="332.5" x2="509.8" y2="332.5" stroke="#555" stroke-width="0.6" />
<line x1="511.2" y1="336.5" x2="509.8" y2="336.5" stroke="#555" stroke-width="0.6" />
<line x1="511.2" y1="340.5" x2="509.8" y2="340.5" stroke="#555" stroke-width="0.6" />
<line x1="511.2" y1="344.5" x2="509.8" y2="344.5" stroke="#555" stroke-width="0.6" />
<line x1="511.2" y1="348.5" x2="509.8" y2="348.5" stroke="#555" stroke-width="0.6" />
<line x1="511.2" y1="206.7" x2="513" y2="206.7" stroke="#555" stroke-width="0.8" />
<text x="514.5" y="209.9" font-size="8.5" font-weight="bold" text-anchor="start" fill="#1a1a1a" font-family='"Liberation Sans", sans-serif' stroke="#1a1a1a" stroke-width="0.2" >-3.6</text>
<line x1="511.2" y1="234.62" x2="513" y2="234.62" stroke="#555" stroke-width="0.8" />
<text x="514.5" y="237.82" font-size="8.5" font-weight="bold" text-anchor="start" fill="#1a1a1a" font-family='"Liberation Sans", sans-serif' stroke="#1a1a1a" stroke-width="0.2" >-4</text>
<line x1="511.2" y1="262.54" x2="513" y2="262.54" stroke="#555" stroke-width="0.8" />
<text x="514.5" y="265.74" font-size="8.5" font-weight="bold" text-anchor="start" fill="#1a1a1a" font-family='"Liberation Sans", sans-serif' stroke="#1a1a1a" stroke-width="0.2" >-4.4</text>
<line x1="511.2" y1="290.46" x2="513" y2="290.46" stroke="#555" stroke-width="0.8" />
<text x="514.5" y="293.66" font-size="8.5" font-weight="bold" text-anchor="start" fill="#1a1a1a" font-family='"Liberation Sans", sans-serif' stroke="#1a1a1a" stroke-width="0.2" >-4.8</text>
<line x1="511.2" y1="318.38" x2="513" y2="318.38" stroke="#555" stroke-width="0.8" />
<text x="514.5" y="321.58" font-size="8.5" font-weight="bold" text-anchor="start" fill="#1a1a1a" font-family='"Liberation Sans", sans-serif' stroke="#1a1a1a" stroke-width="0.2" >-5.2</text>
<line x1="511.2" y1="346.3" x2="513" y2="346.3" stroke="#555" stroke-width="0.8" />
<text x="514.5" y="349.5" font-size="8.5" font-weight="bold" text-anchor="start" fill="#1a1a1a" font-family='"Liberation Sans", sans-serif' stroke="#1a1a1a" stroke-width="0.2" >-5.6</text>
<text x="375.4" y="373.3" font-size="10" font-weight="bold" text-anchor="middle" fill="#1a1a1a" font-family='"Liberation Sans", sans-serif' textLength="28.6" lengthAdjust="spacingAndGlyphs" stroke="#1a1a1a" stroke-width="0.2" >x(μm)</text>
<text x="258.4" y="277.3" font-size="10" font-weight="bold" text-anchor="middle" fill="#1a1a1a" font-family='"Liberation Sans", sans-serif' textLength="27.7" lengthAdjust="spacingAndGlyphs" transform="rotate(-90 258.4 277.3)" stroke="#1a1a1a" stroke-width="0.2" >z(μm)</text>
<text x="502.5" y="273" font-size="10.5" font-weight="bold" text-anchor="middle" fill="#00d68f" font-family='"Liberation Sans", sans-serif' textLength="87" lengthAdjust="spacingAndGlyphs" transform="rotate(-90 502.5 273)" stroke="#00d68f" stroke-width="0.2" >Potential (V, SHE)</text>
<text x="544.3" y="275" font-size="10.5" font-weight="bold" text-anchor="middle" fill="#ee1111" font-family='"Liberation Sans", sans-serif' textLength="125" lengthAdjust="spacingAndGlyphs" transform="rotate(-90 544.3 275)" stroke="#ee1111" stroke-width="0.2" >chemical potential μ (eV)</text>
<text x="374.7" y="396.4" font-size="16.5" font-weight="bold" text-anchor="middle" fill="#111" font-family='"Liberation Serif", serif' textLength="23.4" lengthAdjust="spacingAndGlyphs" >(d)</text>
<text x="307.8" y="265.6" font-size="9" font-weight="bold" text-anchor="middle" fill="#1a1a1a" font-family='"Liberation Sans", sans-serif' textLength="9.3" lengthAdjust="spacingAndGlyphs" stroke="#1a1a1a" stroke-width="0.2" >Cu</text>
<text x="370.8" y="232.3" font-size="9.6" font-weight="bold" text-anchor="start" fill="#1a1a1a" font-family='"Liberation Sans", sans-serif' textLength="19.5" lengthAdjust="spacingAndGlyphs" stroke="#1a1a1a" stroke-width="0.2" >SnO<tspan font-size="6.5" dy="2">2</tspan></text>
<text x="445" y="252.3" font-size="9.6" font-weight="bold" text-anchor="middle" fill="#1a1a1a" font-family='"Liberation Sans", sans-serif' textLength="8.5" lengthAdjust="spacingAndGlyphs" stroke="#1a1a1a" stroke-width="0.2" >Al</text>
<line x1="346.2" y1="221.8" x2="346.2" y2="327.1" stroke="#ff3030" stroke-width="0.9" stroke-dasharray="2,1"/>
<line x1="414.4" y1="207.6" x2="414.4" y2="313" stroke="#ff3030" stroke-width="0.9" stroke-dasharray="2,1"/>
<path d="M281.3,244.5 C282.42,244.3 285.72,243.62 288,243.3 C290.28,242.98 292.5,242.88 295,242.6 C297.5,242.32 300.33,241.83 303,241.6 C305.67,241.37 308.5,241.1 311,241.2 C313.5,241.3 315.67,241.57 318,242.2 C320.33,242.83 322.83,243.53 325,245 C327.17,246.47 329.17,248.83 331,251 C332.83,253.17 334.5,255.5 336,258 C337.5,260.5 338.83,263 340,266 C341.17,269 342.17,272.67 343,276 C343.83,279.33 344.42,282.33 345,286 C345.58,289.67 346,294.33 346.5,298 C347,301.67 347.42,305 348,308 C348.58,311 349.17,313.92 350,316 C350.83,318.08 352,319.58 353,320.5 C354,321.42 354.83,321.75 356,321.5 C357.17,321.25 358.33,320.08 360,319 C361.67,317.92 364,316.5 366,315 C368,313.5 369.67,312.17 372,310 C374.33,307.83 377.33,305 380,302 C382.67,299 385.33,295.67 388,292 C390.67,288.33 393.67,283.5 396,280 C398.33,276.5 400.08,273.87 402,271 C403.92,268.13 406.08,263.8 407.5,262.8 C408.92,261.8 409.35,263.13 410.5,265 C411.65,266.87 413.32,273.75 414.4,274 C415.48,274.25 416.07,269.17 417,266.5 C417.93,263.83 418.83,260.67 420,258 C421.17,255.33 422.33,253 424,250.5 C425.67,248 427.67,245.58 430,243 C432.33,240.42 435.33,237.42 438,235 C440.67,232.58 443.33,230.42 446,228.5 C448.67,226.58 451.33,225.08 454,223.5 C456.67,221.92 459.67,220.17 462,219 C464.33,217.83 466.5,217 468,216.5 C469.5,216 470.5,216.08 471,216" stroke="#8a8a8a" stroke-width="0.8" fill="none" />
<path d="M281.3,246.8 C282.42,246.6 285.72,245.97 288,245.6 C290.28,245.23 292.5,244.9 295,244.6 C297.5,244.3 300.33,243.98 303,243.8 C305.67,243.62 308.5,243.38 311,243.5 C313.5,243.62 315.67,243.83 318,244.5 C320.33,245.17 322.83,246.08 325,247.5 C327.17,248.92 329.17,250.92 331,253 C332.83,255.08 334.5,257.5 336,260 C337.5,262.5 338.83,265 340,268 C341.17,271 342.17,274.5 343,278 C343.83,281.5 344.42,285.33 345,289 C345.58,292.67 346,296.58 346.5,300 C347,303.42 347.42,306.58 348,309.5 C348.58,312.42 349.17,315.42 350,317.5 C350.83,319.58 352,321.08 353,322 C354,322.92 354.83,323.08 356,323 C357.17,322.92 358.33,322.42 360,321.5 C361.67,320.58 364,318.92 366,317.5 C368,316.08 369.67,315.08 372,313 C374.33,310.92 377.33,307.92 380,305 C382.67,302.08 385.33,299 388,295.5 C390.67,292 393.67,287.33 396,284 C398.33,280.67 400.17,278.2 402,275.5 C403.83,272.8 405.58,268.72 407,267.8 C408.42,266.88 409.27,268.55 410.5,270 C411.73,271.45 413.32,276.58 414.4,276.5 C415.48,276.42 416.07,272.08 417,269.5 C417.93,266.92 418.83,263.67 420,261 C421.17,258.33 422.33,256 424,253.5 C425.67,251 427.67,248.58 430,246 C432.33,243.42 435.33,240.42 438,238 C440.67,235.58 443.33,233.5 446,231.5 C448.67,229.5 451.33,227.67 454,226 C456.67,224.33 459.67,222.75 462,221.5 C464.33,220.25 466.5,219.08 468,218.5 C469.5,217.92 470.5,218.08 471,218" stroke="#8a8a8a" stroke-width="0.8" fill="none" />
<path d="M281.3,295.69 C281.92,295.58 283.55,294.94 285,295.05 C286.45,295.16 288.33,296.42 290,296.34 C291.67,296.27 293.33,294.82 295,294.62 C296.67,294.43 298.33,295.43 300,295.15 C301.67,294.88 303.33,293.52 305,292.98 C306.67,292.44 308.33,292.01 310,291.92 C311.67,291.82 313.33,292.61 315,292.4 C316.67,292.2 318.33,291.08 320,290.71 C321.67,290.34 323.1,290.2 325,290.18 C326.9,290.16 329.57,290.46 331.4,290.59 C333.23,290.73 334.4,290.5 336,290.96 C337.6,291.43 339.67,292.57 341,293.4 C342.33,294.24 343.08,294.68 344,295.97 C344.92,297.27 345.75,299.07 346.5,301.17 C347.25,303.27 347.83,305.91 348.5,308.58 C349.17,311.25 349.83,314.85 350.5,317.16 C351.17,319.47 351.58,321.21 352.5,322.44 C353.42,323.67 354.75,324 356,324.53 C357.25,325.05 358.33,325.44 360,325.59 C361.67,325.74 363.5,325.66 366,325.41 C368.5,325.15 371.83,324.09 375,324.08 C378.17,324.06 381.67,325.07 385,325.31 C388.33,325.55 392.17,325.6 395,325.51 C397.83,325.42 400.17,325.06 402,324.76 C403.83,324.47 405,324.29 406,323.74 C407,323.18 407.42,323.73 408,321.44 C408.58,319.14 409.03,315.16 409.5,309.97 C409.97,304.77 410.42,297.68 410.8,290.26 C411.18,282.84 411.47,274.12 411.8,265.45 C412.13,256.79 412.43,245.08 412.8,238.26 C413.17,231.43 413.47,228.07 414,224.51 C414.53,220.94 415.17,218.9 416,216.87 C416.83,214.85 418,213.43 419,212.36 C420,211.29 420.83,210.49 422,210.43 C423.17,210.38 424.67,211.69 426,212.02 C427.33,212.36 428.67,212.46 430,212.45 C431.33,212.45 432.67,211.5 434,212.02 C435.33,212.54 436.67,214.54 438,215.56 C439.33,216.59 440.33,217.33 442,218.16 C443.67,218.99 445.83,219.93 448,220.56 C450.17,221.19 452.67,221.41 455,221.92 C457.33,222.44 460,223.01 462,223.65 C464,224.29 465.5,225.2 467,225.76 C468.5,226.32 470.33,226.8 471,227.01" stroke="#14d68c" stroke-width="2.1" fill="none" />
<path d="M281.3,303.36 C282.08,303.11 284.38,302.36 286,301.82 C287.62,301.28 289.33,300.72 291,300.1 C292.67,299.48 294.33,298.62 296,298.1 C297.67,297.58 299.33,297.38 301,296.99 C302.67,296.59 304.33,296.13 306,295.72 C307.67,295.31 309.33,294.98 311,294.51 C312.67,294.05 315.17,293.19 316,292.93" stroke="#14d68c" stroke-width="2.1" fill="none" />
<line x1="305.5" y1="236.6" x2="289.4" y2="236.6" stroke="#999" stroke-width="0.9" />
<path d="M288.9,236.6 L292.9,235 L292.9,238.2 Z" fill="#999"/>
<line x1="433" y1="205.6" x2="452" y2="205.6" stroke="#14d68c" stroke-width="1.2" />
<path d="M452.5,205.6 L448.5,207.2 L448.5,204 Z" fill="#14d68c"/>
<defs>
<linearGradient id="cbar" x1="0" y1="0" x2="0" y2="1">
<stop offset="0" stop-color="#ff2020"/><stop offset="0.05" stop-color="#ff3a18"/><stop offset="0.10" stop-color="#f88018"/>
<stop offset="0.14" stop-color="#f0b010"/><stop offset="0.2" stop-color="#e8d810"/><stop offset="0.35" stop-color="#d2d010"/>
<stop offset="0.55" stop-color="#b8c418"/><stop offset="0.75" stop-color="#90bc20"/><stop offset="0.92" stop-color="#58aa20"/><stop offset="1" stop-color="#3a9a18"/></linearGradient>
<linearGradient id="steep" x1="0" y1="0" x2="0" y2="1">
<stop offset="0" stop-color="#5aa820"/><stop offset="0.35" stop-color="#7aa818"/><stop offset="0.6" stop-color="#b0b010"/><stop offset="0.85" stop-color="#e87010"/><stop offset="1" stop-color="#ff3010"/></linearGradient>
<linearGradient id="bot" x1="0" y1="0" x2="1" y2="0">
<stop offset="0" stop-color="#ff3a10"/><stop offset="0.3" stop-color="#f26418"/><stop offset="0.6" stop-color="#e8861a"/><stop offset="0.85" stop-color="#dc9c1a"/><stop offset="1" stop-color="#c8b018"/></linearGradient>
<linearGradient id="botv" x1="0" y1="0" x2="0" y2="1">
<stop offset="0" stop-color="#ffffff" stop-opacity="0"/><stop offset="1" stop-color="#ff2000" stop-opacity="0.45"/></linearGradient>
<linearGradient id="bump" x1="0" y1="0" x2="1" y2="0">
<stop offset="0" stop-color="#b8c010"/><stop offset="0.35" stop-color="#d0c010"/><stop offset="0.6" stop-color="#e88a18"/><stop offset="0.8" stop-color="#f45018"/><stop offset="1" stop-color="#ff2010"/></linearGradient>
<linearGradient id="plat" x1="0.6" y1="0" x2="0.1" y2="1">
<stop offset="0" stop-color="#4caa1c"/><stop offset="0.5" stop-color="#60b222"/><stop offset="1" stop-color="#86bc28"/></linearGradient>
</defs>
<line x1="54.2" y1="420" x2="54.2" y2="528.2" stroke="#c8c8c8" stroke-width="0.8" />
<line x1="54.2" y1="528.2" x2="169.6" y2="528.2" stroke="#c8c8c8" stroke-width="0.8" />
<line x1="169.6" y1="413.2" x2="169.6" y2="528.2" stroke="#c8c8c8" stroke-width="0.8" />
<line x1="40.3" y1="553.5" x2="54.2" y2="528.2" stroke="#c8c8c8" stroke-width="0.8" />
<line x1="183.6" y1="553.5" x2="169.6" y2="528.2" stroke="#c8c8c8" stroke-width="0.8" />
<line x1="171.35" y1="531.36" x2="173.55" y2="531.36" stroke="#999" stroke-width="0.6" />
<line x1="173.1" y1="534.53" x2="175.3" y2="534.53" stroke="#999" stroke-width="0.6" />
<line x1="174.85" y1="537.69" x2="177.05" y2="537.69" stroke="#999" stroke-width="0.6" />
<line x1="176.6" y1="540.85" x2="178.8" y2="540.85" stroke="#999" stroke-width="0.6" />
<line x1="178.35" y1="544.01" x2="180.55" y2="544.01" stroke="#999" stroke-width="0.6" />
<line x1="180.1" y1="547.17" x2="182.3" y2="547.17" stroke="#999" stroke-width="0.6" />
<line x1="181.85" y1="550.34" x2="184.05" y2="550.34" stroke="#999" stroke-width="0.6" />
<line x1="38.6" y1="411.5" x2="183.6" y2="411.5" stroke="#d4d4d4" stroke-width="1.6" />
<line x1="183.6" y1="411.5" x2="169.6" y2="413.2" stroke="#c8c8c8" stroke-width="0.8" />
<line x1="183.6" y1="411.5" x2="183.6" y2="553.5" stroke="#c8c8c8" stroke-width="0.8" />
<line x1="38.6" y1="411.5" x2="38.6" y2="553.5" stroke="#888" stroke-width="0.9" />
<line x1="38.6" y1="553.5" x2="183.6" y2="553.5" stroke="#555" stroke-width="1" />
<line x1="37" y1="416.86" x2="38.6" y2="416.86" stroke="#666" stroke-width="0.8" />
<text x="36.8" y="420.16" font-size="8.8" font-weight="bold" text-anchor="end" fill="#1a1a1a" font-family='"Liberation Sans", sans-serif' stroke="#1a1a1a" stroke-width="0.2" >-1.6</text>
<line x1="37" y1="439.22" x2="38.6" y2="439.22" stroke="#666" stroke-width="0.8" />
<text x="36.8" y="442.52" font-size="8.8" font-weight="bold" text-anchor="end" fill="#1a1a1a" font-family='"Liberation Sans", sans-serif' stroke="#1a1a1a" stroke-width="0.2" >-1.2</text>
<line x1="37" y1="461.58" x2="38.6" y2="461.58" stroke="#666" stroke-width="0.8" />
<text x="36.8" y="464.88" font-size="8.8" font-weight="bold" text-anchor="end" fill="#1a1a1a" font-family='"Liberation Sans", sans-serif' stroke="#1a1a1a" stroke-width="0.2" >-0.8</text>
<line x1="37" y1="483.94" x2="38.6" y2="483.94" stroke="#666" stroke-width="0.8" />
<text x="36.8" y="487.24" font-size="8.8" font-weight="bold" text-anchor="end" fill="#1a1a1a" font-family='"Liberation Sans", sans-serif' stroke="#1a1a1a" stroke-width="0.2" >-0.4</text>
<line x1="37" y1="506.3" x2="38.6" y2="506.3" stroke="#666" stroke-width="0.8" />
<text x="36.8" y="509.6" font-size="8.8" font-weight="bold" text-anchor="end" fill="#1a1a1a" font-family='"Liberation Sans", sans-serif' stroke="#1a1a1a" stroke-width="0.2" >0</text>
<line x1="37" y1="528.66" x2="38.6" y2="528.66" stroke="#666" stroke-width="0.8" />
<text x="36.8" y="531.96" font-size="8.8" font-weight="bold" text-anchor="end" fill="#1a1a1a" font-family='"Liberation Sans", sans-serif' stroke="#1a1a1a" stroke-width="0.2" >0.4</text>
<line x1="37" y1="551.02" x2="38.6" y2="551.02" stroke="#666" stroke-width="0.8" />
<text x="36.8" y="554.32" font-size="8.8" font-weight="bold" text-anchor="end" fill="#1a1a1a" font-family='"Liberation Sans", sans-serif' stroke="#1a1a1a" stroke-width="0.2" >0.8</text>
<line x1="40.3" y1="553.5" x2="40.3" y2="555.3" stroke="#666" stroke-width="0.6" />
<line x1="45.3" y1="553.5" x2="45.3" y2="554.5" stroke="#666" stroke-width="0.6" />
<line x1="50.3" y1="553.5" x2="50.3" y2="554.5" stroke="#666" stroke-width="0.6" />
<line x1="55.3" y1="553.5" x2="55.3" y2="554.5" stroke="#666" stroke-width="0.6" />
<line x1="60.3" y1="553.5" x2="60.3" y2="554.5" stroke="#666" stroke-width="0.6" />
<line x1="65.3" y1="553.5" x2="65.3" y2="554.5" stroke="#666" stroke-width="0.6" />
<line x1="70.3" y1="553.5" x2="70.3" y2="555.3" stroke="#666" stroke-width="0.6" />
<line x1="75.3" y1="553.5" x2="75.3" y2="554.5" stroke="#666" stroke-width="0.6" />
<line x1="80.3" y1="553.5" x2="80.3" y2="554.5" stroke="#666" stroke-width="0.6" />
<line x1="85.3" y1="553.5" x2="85.3" y2="554.5" stroke="#666" stroke-width="0.6" />
<line x1="90.3" y1="553.5" x2="90.3" y2="554.5" stroke="#666" stroke-width="0.6" />
<line x1="95.3" y1="553.5" x2="95.3" y2="554.5" stroke="#666" stroke-width="0.6" />
<line x1="100.3" y1="553.5" x2="100.3" y2="555.3" stroke="#666" stroke-width="0.6" />
<line x1="105.3" y1="553.5" x2="105.3" y2="554.5" stroke="#666" stroke-width="0.6" />
<line x1="110.3" y1="553.5" x2="110.3" y2="554.5" stroke="#666" stroke-width="0.6" />
<line x1="115.3" y1="553.5" x2="115.3" y2="554.5" stroke="#666" stroke-width="0.6" />
<line x1="120.3" y1="553.5" x2="120.3" y2="554.5" stroke="#666" stroke-width="0.6" />
<line x1="125.3" y1="553.5" x2="125.3" y2="554.5" stroke="#666" stroke-width="0.6" />
<line x1="130.3" y1="553.5" x2="130.3" y2="555.3" stroke="#666" stroke-width="0.6" />
<line x1="135.3" y1="553.5" x2="135.3" y2="554.5" stroke="#666" stroke-width="0.6" />
<line x1="140.3" y1="553.5" x2="140.3" y2="554.5" stroke="#666" stroke-width="0.6" />
<line x1="145.3" y1="553.5" x2="145.3" y2="554.5" stroke="#666" stroke-width="0.6" />
<line x1="150.3" y1="553.5" x2="150.3" y2="554.5" stroke="#666" stroke-width="0.6" />
<line x1="155.3" y1="553.5" x2="155.3" y2="554.5" stroke="#666" stroke-width="0.6" />
<line x1="160.3" y1="553.5" x2="160.3" y2="555.3" stroke="#666" stroke-width="0.6" />
<line x1="165.3" y1="553.5" x2="165.3" y2="554.5" stroke="#666" stroke-width="0.6" />
<line x1="170.3" y1="553.5" x2="170.3" y2="554.5" stroke="#666" stroke-width="0.6" />
<line x1="175.3" y1="553.5" x2="175.3" y2="554.5" stroke="#666" stroke-width="0.6" />
<line x1="180.3" y1="553.5" x2="180.3" y2="554.5" stroke="#666" stroke-width="0.6" />
<path d="M83,448.6 L85,455 L87.3,478 L90,500 L92.1,515.9 L94,534.9 L95.9,542.5 L99.7,545.3 L99.7,516.9 L96.8,512.1 L94.9,497 L93,485 L91.1,468.5 L90,446 L88.8,438.5 Z" fill="url(#steep)"/>
<path d="M40.8,452.3 L44,445 L48,434 L51.5,423 L54.6,414 L57,416 L61.2,419.5 L65,421 L68.5,422.5 L72,425 L75.5,428 L78.6,430.5 L82,432 L85.2,433.4 L87.5,435.5 L88.8,438.5 L89.5,442 L86,447 L83,448.6 L80.1,447.2 L75,446.4 L71.4,446.2 L64.1,445.7 L60,446 L55.4,446.5 L50,448.3 L46.6,450 L40.8,452.3 Z" fill="url(#plat)"/>
<path d="M83,448.6 L85,455 L87.3,478 L90,500 L92.1,515.9 L94,534.9 L95.9,542.5 L95.9,542.5 L97,544 L93.5,520 L89.5,480 L86.5,452 Z" fill="#000" fill-opacity="0.08"/>
<path d="M99.7,516.9 L104,518 L109.2,517.8 L114.8,515.5 L119,515.8 L124.3,515.5 L128,513.5 L131.9,511.2 L135,508.5 L137.6,506.4 L137.6,526.3 L134.5,532 L131.9,537.3 L128,538.5 L124.3,539 L118,540.2 L113,541.5 L109,543 L105.4,544 L102,545.3 L99.7,545.8 L95.9,542.5 Z" fill="url(#bot)"/>
<path d="M99.7,516.9 L104,518 L109.2,517.8 L114.8,515.5 L119,515.8 L124.3,515.5 L128,513.5 L131.9,511.2 L135,508.5 L137.6,506.4 L137.6,526.3 L134.5,532 L131.9,537.3 L128,538.5 L124.3,539 L118,540.2 L113,541.5 L109,543 L105.4,544 L102,545.3 L99.7,545.8 L95.9,542.5 Z" fill="url(#botv)"/>
<line x1="104.5" y1="518" x2="105.3" y2="543" stroke="#a04010" stroke-width="0.5" stroke-opacity="0.45"/>
<line x1="111" y1="517" x2="111.8" y2="539.5" stroke="#a04010" stroke-width="0.5" stroke-opacity="0.45"/>
<line x1="119.5" y1="515.8" x2="120.3" y2="537.6" stroke="#a04010" stroke-width="0.5" stroke-opacity="0.45"/>
<line x1="127.5" y1="513.8" x2="128.3" y2="536.2" stroke="#a04010" stroke-width="0.5" stroke-opacity="0.45"/>
<path d="M137.6,506.4 L140,505.7 L143,507 L145.9,509.6 L150,513 L153.8,516.2 L157,518.5 L160.4,520.2 L165,522 L169.6,524.2 L173,531 L177,540 L181.5,552.7 L181.5,552.7 L175,547.5 L169.6,541.3 L163,537 L156.4,532.1 L150,530 L145.9,528.1 L141,527.5 L137.9,526.8 Z" fill="url(#bump)"/>
<line x1="44" y1="439.2" x2="85" y2="439.2" stroke="#3a7a10" stroke-width="0.5" stroke-opacity="0.6"/>
<line x1="50" y1="425.4" x2="72" y2="425.4" stroke="#3a7a10" stroke-width="0.5" stroke-opacity="0.5"/>
<line x1="83.2" y1="437.7" x2="83.2" y2="512.3" stroke="#222" stroke-width="1.0" stroke-dasharray="1.1,1.3"/>
<line x1="138.2" y1="462.8" x2="138.2" y2="535.8" stroke="#222" stroke-width="1.0" stroke-dasharray="1.1,1.3"/>
<text x="67.9" y="469.5" font-size="8.2" font-weight="bold" text-anchor="middle" fill="#1a1a1a" font-family='"Liberation Sans", sans-serif' textLength="8.5" lengthAdjust="spacingAndGlyphs" stroke="#1a1a1a" stroke-width="0.2" >Al</text>
<text x="109" y="490" font-size="8.2" font-weight="bold" text-anchor="start" fill="#1a1a1a" font-family='"Liberation Sans", sans-serif' textLength="18" lengthAdjust="spacingAndGlyphs" stroke="#1a1a1a" stroke-width="0.2" >SnO<tspan font-size="5.5" dy="2">2</tspan></text>
<text x="156" y="500.8" font-size="8.2" font-weight="bold" text-anchor="middle" fill="#1a1a1a" font-family='"Liberation Sans", sans-serif' textLength="9.5" lengthAdjust="spacingAndGlyphs" stroke="#1a1a1a" stroke-width="0.2" >Cu</text>
<text x="16.4" y="496" font-size="9.8" font-weight="bold" text-anchor="middle" fill="#1a1a1a" font-family='"Liberation Sans", sans-serif' textLength="71" lengthAdjust="spacingAndGlyphs" transform="rotate(-90 16.4 496)" stroke="#1a1a1a" stroke-width="0.2" >Potential (V, SHE)</text>
<text x="42.3" y="563" font-size="8.8" font-weight="bold" text-anchor="middle" fill="#1a1a1a" font-family='"Liberation Sans", sans-serif' stroke="#1a1a1a" stroke-width="0.2" >0</text>
<text x="100.8" y="564.8" font-size="8.8" font-weight="bold" text-anchor="middle" fill="#1a1a1a" font-family='"Liberation Sans", sans-serif' stroke="#1a1a1a" stroke-width="0.2" >5,000</text>
<text x="160" y="564.8" font-size="8.8" font-weight="bold" text-anchor="middle" fill="#1a1a1a" font-family='"Liberation Sans", sans-serif' stroke="#1a1a1a" stroke-width="0.2" >10,000</text>
<text x="116.2" y="572.8" font-size="9.6" font-weight="bold" text-anchor="middle" fill="#1a1a1a" font-family='"Liberation Sans", sans-serif' textLength="28.7" lengthAdjust="spacingAndGlyphs" stroke="#1a1a1a" stroke-width="0.2" >x (μm)</text>
<text x="113" y="593.5" font-size="17" font-weight="bold" text-anchor="middle" fill="#111" font-family='"Liberation Serif", serif' textLength="20.5" lengthAdjust="spacingAndGlyphs" >(e)</text>
<rect x="193.6" y="438.4" width="11.1" height="1.4" fill="#c4c4c4"/>
<rect x="193.6" y="439.6" width="11.1" height="117.2" fill="url(#cbar)"/>
<rect x="193.6" y="555.6" width="11.1" height="1.2" fill="#1a3a10"/>
<text x="218.3" y="432.8" font-size="9.5" font-weight="bold" text-anchor="middle" fill="#1a1a1a" font-family='"Liberation Sans", sans-serif' textLength="51" lengthAdjust="spacingAndGlyphs" stroke="#1a1a1a" stroke-width="0.2" >Potential (V)</text>
<line x1="204.7" y1="440.3" x2="207.2" y2="440.3" stroke="#666" stroke-width="0.7" />
<text x="210.2" y="443" font-size="8" font-weight="bold" text-anchor="start" fill="#2a2a2a" font-family='"Liberation Serif", serif' >0.89</text>
<line x1="204.7" y1="451.88" x2="207.2" y2="451.88" stroke="#666" stroke-width="0.7" />
<text x="210.2" y="454.58" font-size="8" font-weight="bold" text-anchor="start" fill="#2a2a2a" font-family='"Liberation Serif", serif' >0.633</text>
<line x1="204.7" y1="463.46" x2="207.2" y2="463.46" stroke="#666" stroke-width="0.7" />
<text x="210.2" y="466.16" font-size="8" font-weight="bold" text-anchor="start" fill="#2a2a2a" font-family='"Liberation Serif", serif' >0.376</text>
<line x1="204.7" y1="475.04" x2="207.2" y2="475.04" stroke="#666" stroke-width="0.7" />
<text x="210.2" y="477.74" font-size="8" font-weight="bold" text-anchor="start" fill="#2a2a2a" font-family='"Liberation Serif", serif' >0.119</text>
<line x1="204.7" y1="486.62" x2="207.2" y2="486.62" stroke="#666" stroke-width="0.7" />
<text x="210.2" y="489.32" font-size="8" font-weight="bold" text-anchor="start" fill="#2a2a2a" font-family='"Liberation Serif", serif' >-0.138</text>
<line x1="204.7" y1="498.2" x2="207.2" y2="498.2" stroke="#666" stroke-width="0.7" />
<text x="210.2" y="500.9" font-size="8" font-weight="bold" text-anchor="start" fill="#2a2a2a" font-family='"Liberation Serif", serif' >-0.395</text>
<line x1="204.7" y1="509.78" x2="207.2" y2="509.78" stroke="#666" stroke-width="0.7" />
<text x="210.2" y="512.48" font-size="8" font-weight="bold" text-anchor="start" fill="#2a2a2a" font-family='"Liberation Serif", serif' >-0.652</text>
<line x1="204.7" y1="521.36" x2="207.2" y2="521.36" stroke="#666" stroke-width="0.7" />
<text x="210.2" y="524.06" font-size="8" font-weight="bold" text-anchor="start" fill="#2a2a2a" font-family='"Liberation Serif", serif' >-0.909</text>
<line x1="204.7" y1="532.94" x2="207.2" y2="532.94" stroke="#666" stroke-width="0.7" />
<text x="210.2" y="535.64" font-size="8" font-weight="bold" text-anchor="start" fill="#2a2a2a" font-family='"Liberation Serif", serif' >-1.17</text>
<line x1="204.7" y1="544.52" x2="207.2" y2="544.52" stroke="#666" stroke-width="0.7" />
<text x="210.2" y="547.22" font-size="8" font-weight="bold" text-anchor="start" fill="#2a2a2a" font-family='"Liberation Serif", serif' >-1.42</text>
<line x1="204.7" y1="556.1" x2="207.2" y2="556.1" stroke="#666" stroke-width="0.7" />
<text x="210.2" y="558.8" font-size="8" font-weight="bold" text-anchor="start" fill="#2a2a2a" font-family='"Liberation Serif", serif' >-1.68</text>
<rect x="289.7" y="407.6" width="179.3" height="145.10000000000002" fill="none" stroke="#4a4a4a" stroke-width="1"/>
<line x1="289.7" y1="552.7" x2="289.7" y2="550.5" stroke="#4a4a4a" stroke-width="0.8" />
<line x1="289.7" y1="407.6" x2="289.7" y2="409.8" stroke="#4a4a4a" stroke-width="0.8" />
<line x1="295.68" y1="552.7" x2="295.68" y2="551.4" stroke="#4a4a4a" stroke-width="0.8" />
<line x1="295.68" y1="407.6" x2="295.68" y2="408.9" stroke="#4a4a4a" stroke-width="0.8" />
<line x1="301.65" y1="552.7" x2="301.65" y2="551.4" stroke="#4a4a4a" stroke-width="0.8" />
<line x1="301.65" y1="407.6" x2="301.65" y2="408.9" stroke="#4a4a4a" stroke-width="0.8" />
<line x1="307.63" y1="552.7" x2="307.63" y2="551.4" stroke="#4a4a4a" stroke-width="0.8" />
<line x1="307.63" y1="407.6" x2="307.63" y2="408.9" stroke="#4a4a4a" stroke-width="0.8" />
<line x1="313.61" y1="552.7" x2="313.61" y2="551.4" stroke="#4a4a4a" stroke-width="0.8" />
<line x1="313.61" y1="407.6" x2="313.61" y2="408.9" stroke="#4a4a4a" stroke-width="0.8" />
<line x1="319.58" y1="552.7" x2="319.58" y2="550.5" stroke="#4a4a4a" stroke-width="0.8" />
<line x1="319.58" y1="407.6" x2="319.58" y2="409.8" stroke="#4a4a4a" stroke-width="0.8" />
<line x1="325.56" y1="552.7" x2="325.56" y2="551.4" stroke="#4a4a4a" stroke-width="0.8" />
<line x1="325.56" y1="407.6" x2="325.56" y2="408.9" stroke="#4a4a4a" stroke-width="0.8" />
<line x1="331.54" y1="552.7" x2="331.54" y2="551.4" stroke="#4a4a4a" stroke-width="0.8" />
<line x1="331.54" y1="407.6" x2="331.54" y2="408.9" stroke="#4a4a4a" stroke-width="0.8" />
<line x1="337.51" y1="552.7" x2="337.51" y2="551.4" stroke="#4a4a4a" stroke-width="0.8" />
<line x1="337.51" y1="407.6" x2="337.51" y2="408.9" stroke="#4a4a4a" stroke-width="0.8" />
<line x1="343.49" y1="552.7" x2="343.49" y2="551.4" stroke="#4a4a4a" stroke-width="0.8" />
<line x1="343.49" y1="407.6" x2="343.49" y2="408.9" stroke="#4a4a4a" stroke-width="0.8" />
<line x1="349.47" y1="552.7" x2="349.47" y2="550.5" stroke="#4a4a4a" stroke-width="0.8" />
<line x1="349.47" y1="407.6" x2="349.47" y2="409.8" stroke="#4a4a4a" stroke-width="0.8" />
<line x1="355.44" y1="552.7" x2="355.44" y2="551.4" stroke="#4a4a4a" stroke-width="0.8" />
<line x1="355.44" y1="407.6" x2="355.44" y2="408.9" stroke="#4a4a4a" stroke-width="0.8" />
<line x1="361.42" y1="552.7" x2="361.42" y2="551.4" stroke="#4a4a4a" stroke-width="0.8" />
<line x1="361.42" y1="407.6" x2="361.42" y2="408.9" stroke="#4a4a4a" stroke-width="0.8" />
<line x1="367.4" y1="552.7" x2="367.4" y2="551.4" stroke="#4a4a4a" stroke-width="0.8" />
<line x1="367.4" y1="407.6" x2="367.4" y2="408.9" stroke="#4a4a4a" stroke-width="0.8" />
<line x1="373.37" y1="552.7" x2="373.37" y2="551.4" stroke="#4a4a4a" stroke-width="0.8" />
<line x1="373.37" y1="407.6" x2="373.37" y2="408.9" stroke="#4a4a4a" stroke-width="0.8" />
<line x1="379.35" y1="552.7" x2="379.35" y2="550.5" stroke="#4a4a4a" stroke-width="0.8" />
<line x1="379.35" y1="407.6" x2="379.35" y2="409.8" stroke="#4a4a4a" stroke-width="0.8" />
<line x1="385.33" y1="552.7" x2="385.33" y2="551.4" stroke="#4a4a4a" stroke-width="0.8" />
<line x1="385.33" y1="407.6" x2="385.33" y2="408.9" stroke="#4a4a4a" stroke-width="0.8" />
<line x1="391.3" y1="552.7" x2="391.3" y2="551.4" stroke="#4a4a4a" stroke-width="0.8" />
<line x1="391.3" y1="407.6" x2="391.3" y2="408.9" stroke="#4a4a4a" stroke-width="0.8" />
<line x1="397.28" y1="552.7" x2="397.28" y2="551.4" stroke="#4a4a4a" stroke-width="0.8" />
<line x1="397.28" y1="407.6" x2="397.28" y2="408.9" stroke="#4a4a4a" stroke-width="0.8" />
<line x1="403.26" y1="552.7" x2="403.26" y2="551.4" stroke="#4a4a4a" stroke-width="0.8" />
<line x1="403.26" y1="407.6" x2="403.26" y2="408.9" stroke="#4a4a4a" stroke-width="0.8" />
<line x1="409.23" y1="552.7" x2="409.23" y2="550.5" stroke="#4a4a4a" stroke-width="0.8" />
<line x1="409.23" y1="407.6" x2="409.23" y2="409.8" stroke="#4a4a4a" stroke-width="0.8" />
<line x1="415.21" y1="552.7" x2="415.21" y2="551.4" stroke="#4a4a4a" stroke-width="0.8" />
<line x1="415.21" y1="407.6" x2="415.21" y2="408.9" stroke="#4a4a4a" stroke-width="0.8" />
<line x1="421.19" y1="552.7" x2="421.19" y2="551.4" stroke="#4a4a4a" stroke-width="0.8" />
<line x1="421.19" y1="407.6" x2="421.19" y2="408.9" stroke="#4a4a4a" stroke-width="0.8" />
<line x1="427.16" y1="552.7" x2="427.16" y2="551.4" stroke="#4a4a4a" stroke-width="0.8" />
<line x1="427.16" y1="407.6" x2="427.16" y2="408.9" stroke="#4a4a4a" stroke-width="0.8" />
<line x1="433.14" y1="552.7" x2="433.14" y2="551.4" stroke="#4a4a4a" stroke-width="0.8" />
<line x1="433.14" y1="407.6" x2="433.14" y2="408.9" stroke="#4a4a4a" stroke-width="0.8" />
<line x1="439.12" y1="552.7" x2="439.12" y2="550.5" stroke="#4a4a4a" stroke-width="0.8" />
<line x1="439.12" y1="407.6" x2="439.12" y2="409.8" stroke="#4a4a4a" stroke-width="0.8" />
<line x1="445.09" y1="552.7" x2="445.09" y2="551.4" stroke="#4a4a4a" stroke-width="0.8" />
<line x1="445.09" y1="407.6" x2="445.09" y2="408.9" stroke="#4a4a4a" stroke-width="0.8" />
<line x1="451.07" y1="552.7" x2="451.07" y2="551.4" stroke="#4a4a4a" stroke-width="0.8" />
<line x1="451.07" y1="407.6" x2="451.07" y2="408.9" stroke="#4a4a4a" stroke-width="0.8" />
<line x1="457.05" y1="552.7" x2="457.05" y2="551.4" stroke="#4a4a4a" stroke-width="0.8" />
<line x1="457.05" y1="407.6" x2="457.05" y2="408.9" stroke="#4a4a4a" stroke-width="0.8" />
<line x1="463.02" y1="552.7" x2="463.02" y2="551.4" stroke="#4a4a4a" stroke-width="0.8" />
<line x1="463.02" y1="407.6" x2="463.02" y2="408.9" stroke="#4a4a4a" stroke-width="0.8" />
<line x1="469" y1="552.7" x2="469" y2="550.5" stroke="#4a4a4a" stroke-width="0.8" />
<line x1="469" y1="407.6" x2="469" y2="409.8" stroke="#4a4a4a" stroke-width="0.8" />
<line x1="288.3" y1="552.1" x2="289.7" y2="552.1" stroke="#4a4a4a" stroke-width="0.8" />
<line x1="288.3" y1="544.86" x2="289.7" y2="544.86" stroke="#4a4a4a" stroke-width="0.8" />
<line x1="288.3" y1="537.62" x2="289.7" y2="537.62" stroke="#4a4a4a" stroke-width="0.8" />
<line x1="288.3" y1="530.38" x2="289.7" y2="530.38" stroke="#4a4a4a" stroke-width="0.8" />
<line x1="288.3" y1="523.14" x2="289.7" y2="523.14" stroke="#4a4a4a" stroke-width="0.8" />
<line x1="288.3" y1="515.9" x2="289.7" y2="515.9" stroke="#4a4a4a" stroke-width="0.8" />
<line x1="288.3" y1="508.66" x2="289.7" y2="508.66" stroke="#4a4a4a" stroke-width="0.8" />
<line x1="288.3" y1="501.42" x2="289.7" y2="501.42" stroke="#4a4a4a" stroke-width="0.8" />
<line x1="288.3" y1="494.18" x2="289.7" y2="494.18" stroke="#4a4a4a" stroke-width="0.8" />
<line x1="288.3" y1="486.94" x2="289.7" y2="486.94" stroke="#4a4a4a" stroke-width="0.8" />
<line x1="288.3" y1="479.7" x2="289.7" y2="479.7" stroke="#4a4a4a" stroke-width="0.8" />
<line x1="288.3" y1="472.46" x2="289.7" y2="472.46" stroke="#4a4a4a" stroke-width="0.8" />
<line x1="288.3" y1="465.22" x2="289.7" y2="465.22" stroke="#4a4a4a" stroke-width="0.8" />
<line x1="288.3" y1="457.98" x2="289.7" y2="457.98" stroke="#4a4a4a" stroke-width="0.8" />
<line x1="288.3" y1="450.74" x2="289.7" y2="450.74" stroke="#4a4a4a" stroke-width="0.8" />
<line x1="288.3" y1="443.5" x2="289.7" y2="443.5" stroke="#4a4a4a" stroke-width="0.8" />
<line x1="288.3" y1="436.26" x2="289.7" y2="436.26" stroke="#4a4a4a" stroke-width="0.8" />
<line x1="288.3" y1="429.02" x2="289.7" y2="429.02" stroke="#4a4a4a" stroke-width="0.8" />
<line x1="288.3" y1="421.78" x2="289.7" y2="421.78" stroke="#4a4a4a" stroke-width="0.8" />
<line x1="288.3" y1="414.54" x2="289.7" y2="414.54" stroke="#4a4a4a" stroke-width="0.8" />
<line x1="288.3" y1="407.3" x2="289.7" y2="407.3" stroke="#4a4a4a" stroke-width="0.8" />
<line x1="469" y1="407.05" x2="466.8" y2="407.05" stroke="#4a4a4a" stroke-width="0.8" />
<line x1="469" y1="407.05" x2="470.8" y2="407.05" stroke="#4a4a4a" stroke-width="0.8" />
<line x1="469" y1="410.66" x2="467.7" y2="410.66" stroke="#4a4a4a" stroke-width="0.8" />
<line x1="469" y1="414.27" x2="467.7" y2="414.27" stroke="#4a4a4a" stroke-width="0.8" />
<line x1="469" y1="417.88" x2="467.7" y2="417.88" stroke="#4a4a4a" stroke-width="0.8" />
<line x1="469" y1="421.49" x2="467.7" y2="421.49" stroke="#4a4a4a" stroke-width="0.8" />
<line x1="469" y1="425.1" x2="466.8" y2="425.1" stroke="#4a4a4a" stroke-width="0.8" />
<line x1="469" y1="425.1" x2="470.8" y2="425.1" stroke="#4a4a4a" stroke-width="0.8" />
<line x1="469" y1="428.71" x2="467.7" y2="428.71" stroke="#4a4a4a" stroke-width="0.8" />
<line x1="469" y1="432.32" x2="467.7" y2="432.32" stroke="#4a4a4a" stroke-width="0.8" />
<line x1="469" y1="435.93" x2="467.7" y2="435.93" stroke="#4a4a4a" stroke-width="0.8" />
<line x1="469" y1="439.54" x2="467.7" y2="439.54" stroke="#4a4a4a" stroke-width="0.8" />
<line x1="469" y1="443.15" x2="466.8" y2="443.15" stroke="#4a4a4a" stroke-width="0.8" />
<line x1="469" y1="443.15" x2="470.8" y2="443.15" stroke="#4a4a4a" stroke-width="0.8" />
<line x1="469" y1="446.76" x2="467.7" y2="446.76" stroke="#4a4a4a" stroke-width="0.8" />
<line x1="469" y1="450.37" x2="467.7" y2="450.37" stroke="#4a4a4a" stroke-width="0.8" />
<line x1="469" y1="453.98" x2="467.7" y2="453.98" stroke="#4a4a4a" stroke-width="0.8" />
<line x1="469" y1="457.59" x2="467.7" y2="457.59" stroke="#4a4a4a" stroke-width="0.8" />
<line x1="469" y1="461.2" x2="466.8" y2="461.2" stroke="#4a4a4a" stroke-width="0.8" />
<line x1="469" y1="461.2" x2="470.8" y2="461.2" stroke="#4a4a4a" stroke-width="0.8" />
<line x1="469" y1="464.81" x2="467.7" y2="464.81" stroke="#4a4a4a" stroke-width="0.8" />
<line x1="469" y1="468.42" x2="467.7" y2="468.42" stroke="#4a4a4a" stroke-width="0.8" />
<line x1="469" y1="472.03" x2="467.7" y2="472.03" stroke="#4a4a4a" stroke-width="0.8" />
<line x1="469" y1="475.64" x2="467.7" y2="475.64" stroke="#4a4a4a" stroke-width="0.8" />
<line x1="469" y1="479.25" x2="466.8" y2="479.25" stroke="#4a4a4a" stroke-width="0.8" />
<line x1="469" y1="479.25" x2="470.8" y2="479.25" stroke="#4a4a4a" stroke-width="0.8" />
<line x1="469" y1="482.86" x2="467.7" y2="482.86" stroke="#4a4a4a" stroke-width="0.8" />
<line x1="469" y1="486.47" x2="467.7" y2="486.47" stroke="#4a4a4a" stroke-width="0.8" />
<line x1="469" y1="490.08" x2="467.7" y2="490.08" stroke="#4a4a4a" stroke-width="0.8" />
<line x1="469" y1="493.69" x2="467.7" y2="493.69" stroke="#4a4a4a" stroke-width="0.8" />
<line x1="469" y1="497.3" x2="466.8" y2="497.3" stroke="#4a4a4a" stroke-width="0.8" />
<line x1="469" y1="497.3" x2="470.8" y2="497.3" stroke="#4a4a4a" stroke-width="0.8" />
<line x1="469" y1="500.91" x2="467.7" y2="500.91" stroke="#4a4a4a" stroke-width="0.8" />
<line x1="469" y1="504.52" x2="467.7" y2="504.52" stroke="#4a4a4a" stroke-width="0.8" />
<line x1="469" y1="508.13" x2="467.7" y2="508.13" stroke="#4a4a4a" stroke-width="0.8" />
<line x1="469" y1="511.74" x2="467.7" y2="511.74" stroke="#4a4a4a" stroke-width="0.8" />
<line x1="469" y1="515.35" x2="466.8" y2="515.35" stroke="#4a4a4a" stroke-width="0.8" />
<line x1="469" y1="515.35" x2="470.8" y2="515.35" stroke="#4a4a4a" stroke-width="0.8" />
<line x1="469" y1="518.96" x2="467.7" y2="518.96" stroke="#4a4a4a" stroke-width="0.8" />
<line x1="469" y1="522.57" x2="467.7" y2="522.57" stroke="#4a4a4a" stroke-width="0.8" />
<line x1="469" y1="526.18" x2="467.7" y2="526.18" stroke="#4a4a4a" stroke-width="0.8" />
<line x1="469" y1="529.79" x2="467.7" y2="529.79" stroke="#4a4a4a" stroke-width="0.8" />
<line x1="469" y1="533.4" x2="466.8" y2="533.4" stroke="#4a4a4a" stroke-width="0.8" />
<line x1="469" y1="533.4" x2="470.8" y2="533.4" stroke="#4a4a4a" stroke-width="0.8" />
<line x1="469" y1="537.01" x2="467.7" y2="537.01" stroke="#4a4a4a" stroke-width="0.8" />
<line x1="469" y1="540.62" x2="467.7" y2="540.62" stroke="#4a4a4a" stroke-width="0.8" />
<line x1="469" y1="544.23" x2="467.7" y2="544.23" stroke="#4a4a4a" stroke-width="0.8" />
<line x1="469" y1="547.84" x2="467.7" y2="547.84" stroke="#4a4a4a" stroke-width="0.8" />
<line x1="469" y1="551.45" x2="466.8" y2="551.45" stroke="#4a4a4a" stroke-width="0.8" />
<line x1="469" y1="551.45" x2="470.8" y2="551.45" stroke="#4a4a4a" stroke-width="0.8" />
<text x="289.7" y="564.8" font-size="9" font-weight="bold" text-anchor="middle" fill="#1a1a1a" font-family='"Liberation Sans", sans-serif' stroke="#1a1a1a" stroke-width="0.2" >0</text>
<text x="319.58" y="564.8" font-size="9" font-weight="bold" text-anchor="middle" fill="#1a1a1a" font-family='"Liberation Sans", sans-serif' stroke="#1a1a1a" stroke-width="0.2" >2,000</text>
<text x="349.47" y="564.8" font-size="9" font-weight="bold" text-anchor="middle" fill="#1a1a1a" font-family='"Liberation Sans", sans-serif' stroke="#1a1a1a" stroke-width="0.2" >4,000</text>
<text x="379.35" y="564.8" font-size="9" font-weight="bold" text-anchor="middle" fill="#1a1a1a" font-family='"Liberation Sans", sans-serif' stroke="#1a1a1a" stroke-width="0.2" >6,000</text>
<text x="409.23" y="564.8" font-size="9" font-weight="bold" text-anchor="middle" fill="#1a1a1a" font-family='"Liberation Sans", sans-serif' stroke="#1a1a1a" stroke-width="0.2" >8,000</text>
<text x="439.12" y="564.8" font-size="9" font-weight="bold" text-anchor="middle" fill="#1a1a1a" font-family='"Liberation Sans", sans-serif' stroke="#1a1a1a" stroke-width="0.2" >10,000</text>
<text x="469" y="564.8" font-size="9" font-weight="bold" text-anchor="middle" fill="#1a1a1a" font-family='"Liberation Sans", sans-serif' stroke="#1a1a1a" stroke-width="0.2" >12,000</text>
<text x="284.8" y="428.6" font-size="9" font-weight="bold" text-anchor="end" fill="#1a1a1a" font-family='"Liberation Sans", sans-serif' stroke="#1a1a1a" stroke-width="0.2" >200</text>
<text x="284.8" y="464.8" font-size="9" font-weight="bold" text-anchor="end" fill="#1a1a1a" font-family='"Liberation Sans", sans-serif' stroke="#1a1a1a" stroke-width="0.2" >100</text>
<text x="284.8" y="501" font-size="9" font-weight="bold" text-anchor="end" fill="#1a1a1a" font-family='"Liberation Sans", sans-serif' stroke="#1a1a1a" stroke-width="0.2" >0</text>
<text x="284.8" y="537.2" font-size="9" font-weight="bold" text-anchor="end" fill="#1a1a1a" font-family='"Liberation Sans", sans-serif' stroke="#1a1a1a" stroke-width="0.2" >-100</text>
<text x="472.3" y="410.25" font-size="9" font-weight="bold" text-anchor="start" fill="#1a1a1a" font-family='"Liberation Sans", sans-serif' stroke="#1a1a1a" stroke-width="0.2" >-2.5</text>
<text x="472.3" y="428.3" font-size="9" font-weight="bold" text-anchor="start" fill="#1a1a1a" font-family='"Liberation Sans", sans-serif' stroke="#1a1a1a" stroke-width="0.2" >-2</text>
<text x="472.3" y="446.35" font-size="9" font-weight="bold" text-anchor="start" fill="#1a1a1a" font-family='"Liberation Sans", sans-serif' stroke="#1a1a1a" stroke-width="0.2" >-1.5</text>
<text x="472.3" y="464.4" font-size="9" font-weight="bold" text-anchor="start" fill="#1a1a1a" font-family='"Liberation Sans", sans-serif' stroke="#1a1a1a" stroke-width="0.2" >-1</text>
<text x="472.3" y="482.45" font-size="9" font-weight="bold" text-anchor="start" fill="#1a1a1a" font-family='"Liberation Sans", sans-serif' stroke="#1a1a1a" stroke-width="0.2" >-0.5</text>
<text x="472.3" y="500.5" font-size="9" font-weight="bold" text-anchor="start" fill="#1a1a1a" font-family='"Liberation Sans", sans-serif' stroke="#1a1a1a" stroke-width="0.2" >0</text>
<text x="472.3" y="518.55" font-size="9" font-weight="bold" text-anchor="start" fill="#1a1a1a" font-family='"Liberation Sans", sans-serif' stroke="#1a1a1a" stroke-width="0.2" >0.5</text>
<text x="472.3" y="536.6" font-size="9" font-weight="bold" text-anchor="start" fill="#1a1a1a" font-family='"Liberation Sans", sans-serif' stroke="#1a1a1a" stroke-width="0.2" >1</text>
<text x="472.3" y="554.65" font-size="9" font-weight="bold" text-anchor="start" fill="#1a1a1a" font-family='"Liberation Sans", sans-serif' stroke="#1a1a1a" stroke-width="0.2" >1.5</text>
<line x1="505.5" y1="408.3" x2="505.5" y2="551.3" stroke="#555" stroke-width="0.8" />
<line x1="505.5" y1="408.3" x2="504.2" y2="408.3" stroke="#555" stroke-width="0.6" />
<line x1="505.5" y1="412.3" x2="504.2" y2="412.3" stroke="#555" stroke-width="0.6" />
<line x1="505.5" y1="416.3" x2="504.2" y2="416.3" stroke="#555" stroke-width="0.6" />
<line x1="505.5" y1="420.3" x2="504.2" y2="420.3" stroke="#555" stroke-width="0.6" />
<line x1="505.5" y1="424.3" x2="504.2" y2="424.3" stroke="#555" stroke-width="0.6" />
<line x1="505.5" y1="428.3" x2="504.2" y2="428.3" stroke="#555" stroke-width="0.6" />
<line x1="505.5" y1="432.3" x2="504.2" y2="432.3" stroke="#555" stroke-width="0.6" />
<line x1="505.5" y1="436.3" x2="504.2" y2="436.3" stroke="#555" stroke-width="0.6" />
<line x1="505.5" y1="440.3" x2="504.2" y2="440.3" stroke="#555" stroke-width="0.6" />
<line x1="505.5" y1="444.3" x2="504.2" y2="444.3" stroke="#555" stroke-width="0.6" />
<line x1="505.5" y1="448.3" x2="504.2" y2="448.3" stroke="#555" stroke-width="0.6" />
<line x1="505.5" y1="452.3" x2="504.2" y2="452.3" stroke="#555" stroke-width="0.6" />
<line x1="505.5" y1="456.3" x2="504.2" y2="456.3" stroke="#555" stroke-width="0.6" />
<line x1="505.5" y1="460.3" x2="504.2" y2="460.3" stroke="#555" stroke-width="0.6" />
<line x1="505.5" y1="464.3" x2="504.2" y2="464.3" stroke="#555" stroke-width="0.6" />
<line x1="505.5" y1="468.3" x2="504.2" y2="468.3" stroke="#555" stroke-width="0.6" />
<line x1="505.5" y1="472.3" x2="504.2" y2="472.3" stroke="#555" stroke-width="0.6" />
<line x1="505.5" y1="476.3" x2="504.2" y2="476.3" stroke="#555" stroke-width="0.6" />
<line x1="505.5" y1="480.3" x2="504.2" y2="480.3" stroke="#555" stroke-width="0.6" />
<line x1="505.5" y1="484.3" x2="504.2" y2="484.3" stroke="#555" stroke-width="0.6" />
<line x1="505.5" y1="488.3" x2="504.2" y2="488.3" stroke="#555" stroke-width="0.6" />
<line x1="505.5" y1="492.3" x2="504.2" y2="492.3" stroke="#555" stroke-width="0.6" />
<line x1="505.5" y1="496.3" x2="504.2" y2="496.3" stroke="#555" stroke-width="0.6" />
<line x1="505.5" y1="500.3" x2="504.2" y2="500.3" stroke="#555" stroke-width="0.6" />
<line x1="505.5" y1="504.3" x2="504.2" y2="504.3" stroke="#555" stroke-width="0.6" />
<line x1="505.5" y1="508.3" x2="504.2" y2="508.3" stroke="#555" stroke-width="0.6" />
<line x1="505.5" y1="512.3" x2="504.2" y2="512.3" stroke="#555" stroke-width="0.6" />
<line x1="505.5" y1="516.3" x2="504.2" y2="516.3" stroke="#555" stroke-width="0.6" />
<line x1="505.5" y1="520.3" x2="504.2" y2="520.3" stroke="#555" stroke-width="0.6" />
<line x1="505.5" y1="524.3" x2="504.2" y2="524.3" stroke="#555" stroke-width="0.6" />
<line x1="505.5" y1="528.3" x2="504.2" y2="528.3" stroke="#555" stroke-width="0.6" />
<line x1="505.5" y1="532.3" x2="504.2" y2="532.3" stroke="#555" stroke-width="0.6" />
<line x1="505.5" y1="536.3" x2="504.2" y2="536.3" stroke="#555" stroke-width="0.6" />
<line x1="505.5" y1="540.3" x2="504.2" y2="540.3" stroke="#555" stroke-width="0.6" />
<line x1="505.5" y1="544.3" x2="504.2" y2="544.3" stroke="#555" stroke-width="0.6" />
<line x1="505.5" y1="548.3" x2="504.2" y2="548.3" stroke="#555" stroke-width="0.6" />
<line x1="505.5" y1="410.4" x2="507.2" y2="410.4" stroke="#555" stroke-width="0.8" />
<text x="507.9" y="413.6" font-size="8.5" font-weight="bold" text-anchor="start" fill="#1a1a1a" font-family='"Liberation Sans", sans-serif' stroke="#1a1a1a" stroke-width="0.2" >-2</text>
<line x1="505.5" y1="428.4" x2="507.2" y2="428.4" stroke="#555" stroke-width="0.8" />
<text x="507.9" y="431.6" font-size="8.5" font-weight="bold" text-anchor="start" fill="#1a1a1a" font-family='"Liberation Sans", sans-serif' stroke="#1a1a1a" stroke-width="0.2" >-2.5</text>
<line x1="505.5" y1="446.4" x2="507.2" y2="446.4" stroke="#555" stroke-width="0.8" />
<text x="507.9" y="449.6" font-size="8.5" font-weight="bold" text-anchor="start" fill="#1a1a1a" font-family='"Liberation Sans", sans-serif' stroke="#1a1a1a" stroke-width="0.2" >-3</text>
<line x1="505.5" y1="464.4" x2="507.2" y2="464.4" stroke="#555" stroke-width="0.8" />
<text x="507.9" y="467.6" font-size="8.5" font-weight="bold" text-anchor="start" fill="#1a1a1a" font-family='"Liberation Sans", sans-serif' stroke="#1a1a1a" stroke-width="0.2" >-3.5</text>
<line x1="505.5" y1="482.4" x2="507.2" y2="482.4" stroke="#555" stroke-width="0.8" />
<text x="507.9" y="485.6" font-size="8.5" font-weight="bold" text-anchor="start" fill="#1a1a1a" font-family='"Liberation Sans", sans-serif' stroke="#1a1a1a" stroke-width="0.2" >-4</text>
<line x1="505.5" y1="500.4" x2="507.2" y2="500.4" stroke="#555" stroke-width="0.8" />
<text x="507.9" y="503.6" font-size="8.5" font-weight="bold" text-anchor="start" fill="#1a1a1a" font-family='"Liberation Sans", sans-serif' stroke="#1a1a1a" stroke-width="0.2" >-4.5</text>
<line x1="505.5" y1="518.4" x2="507.2" y2="518.4" stroke="#555" stroke-width="0.8" />
<text x="507.9" y="521.6" font-size="8.5" font-weight="bold" text-anchor="start" fill="#1a1a1a" font-family='"Liberation Sans", sans-serif' stroke="#1a1a1a" stroke-width="0.2" >-5</text>
<line x1="505.5" y1="536.4" x2="507.2" y2="536.4" stroke="#555" stroke-width="0.8" />
<text x="507.9" y="539.6" font-size="8.5" font-weight="bold" text-anchor="start" fill="#1a1a1a" font-family='"Liberation Sans", sans-serif' stroke="#1a1a1a" stroke-width="0.2" >-5.5</text>
<text x="383.7" y="574.5" font-size="11.5" font-weight="bold" text-anchor="middle" fill="#1a1a1a" font-family='"Liberation Sans", sans-serif' textLength="31" lengthAdjust="spacingAndGlyphs" stroke="#1a1a1a" stroke-width="0.2" >x(μm)</text>
<text x="273" y="487" font-size="11" font-weight="bold" text-anchor="middle" fill="#1a1a1a" font-family='"Liberation Sans", sans-serif' textLength="34" lengthAdjust="spacingAndGlyphs" transform="rotate(-90 273 487)" stroke="#1a1a1a" stroke-width="0.2" >Z(μm)</text>
<text x="498" y="488" font-size="10.5" font-weight="bold" text-anchor="middle" fill="#ee1133" font-family='"Liberation Sans", sans-serif' textLength="87.5" lengthAdjust="spacingAndGlyphs" transform="rotate(-90 498 488)" stroke="#ee1133" stroke-width="0.2" >Potential (V, SHE)</text>
<text x="538.2" y="476" font-size="10.5" font-weight="bold" text-anchor="middle" fill="#1a9a1a" font-family='"Liberation Sans", sans-serif' textLength="131.5" lengthAdjust="spacingAndGlyphs" transform="rotate(-90 538.2 476)" stroke="#1a9a1a" stroke-width="0.2" >chemical potential, μ (eV)</text>
<text x="384.2" y="597" font-size="16.5" font-weight="bold" text-anchor="middle" fill="#111" font-family='"Liberation Serif", serif' textLength="19.1" lengthAdjust="spacingAndGlyphs" >(f)</text>
<text x="323.9" y="427" font-size="8.5" font-weight="bold" text-anchor="middle" fill="#1a1a1a" font-family='"Liberation Sans", sans-serif' textLength="7.5" lengthAdjust="spacingAndGlyphs" stroke="#1a1a1a" stroke-width="0.2" >Al</text>
<text x="375.6" y="450" font-size="8.5" font-weight="bold" text-anchor="start" fill="#1a1a1a" font-family='"Liberation Sans", sans-serif' textLength="20" lengthAdjust="spacingAndGlyphs" stroke="#1a1a1a" stroke-width="0.2" >SnO<tspan font-size="5.5" dy="2">2</tspan></text>
<text x="448.8" y="478" font-size="8.5" font-weight="bold" text-anchor="middle" fill="#1a1a1a" font-family='"Liberation Sans", sans-serif' textLength="9" lengthAdjust="spacingAndGlyphs" stroke="#1a1a1a" stroke-width="0.2" >Cu</text>
<text x="385.8" y="466.2" font-size="8.4" font-weight="bold" text-anchor="start" fill="#222" font-family='"Liberation Sans", sans-serif' textLength="28" lengthAdjust="spacingAndGlyphs" stroke="#222" stroke-width="0.2" >−3.6 eV</text>
<text x="417.8" y="510" font-size="8.4" font-weight="bold" text-anchor="start" fill="#222" font-family='"Liberation Sans", sans-serif' textLength="27.5" lengthAdjust="spacingAndGlyphs" stroke="#222" stroke-width="0.2" >−4.8 eV</text>
<text x="397.9" y="504.8" font-size="10.8" font-weight="bold" text-anchor="start" fill="#111" font-family='"Liberation Sans", sans-serif' textLength="9.6" lengthAdjust="spacingAndGlyphs" stroke="#111" stroke-width="0.2" >E<tspan font-size="7.5" dy="3.6">C</tspan></text>
<rect x="291" y="504.2" width="45.2" height="33.4" fill="#fff" stroke="#bbb" stroke-width="0.8"/>
<line x1="292.5" y1="510.7" x2="309.3" y2="510.7" stroke="#ff3030" stroke-width="1.1" />
<text x="311.5" y="513.7" font-size="8.6" font-weight="normal" text-anchor="start" fill="#222" font-family='"Liberation Sans", sans-serif' textLength="12.7" lengthAdjust="spacingAndGlyphs" stroke="#222" stroke-width="0.35" >first</text>
<line x1="292.5" y1="521.6" x2="309.3" y2="521.6" stroke="#33ee55" stroke-width="1.1" />
<text x="311.5" y="524.6" font-size="8.6" font-weight="normal" text-anchor="start" fill="#222" font-family='"Liberation Sans", sans-serif' textLength="23.2" lengthAdjust="spacingAndGlyphs" stroke="#222" stroke-width="0.35" >second</text>
<line x1="292.5" y1="531.9" x2="309.3" y2="531.9" stroke="#1faa2a" stroke-width="1.1" />
<text x="311.5" y="534.9" font-size="8.6" font-weight="normal" text-anchor="start" fill="#222" font-family='"Liberation Sans", sans-serif' textLength="15.3" lengthAdjust="spacingAndGlyphs" stroke="#222" stroke-width="0.35" >third</text>
<line x1="345.3" y1="434.9" x2="345.3" y2="537.6" stroke="#7fc850" stroke-width="0.9" />
<line x1="415.1" y1="433.1" x2="415.1" y2="537.6" stroke="#7fc850" stroke-width="0.9" />
<path d="M289.7,461.4 C291.42,461.47 296.62,461.68 300,461.8 C303.38,461.92 306.67,461.8 310,462.1 C313.33,462.4 317.5,463.03 320,463.6 C322.5,464.17 323.33,464.6 325,465.5 C326.67,466.4 328.33,467.58 330,469 C331.67,470.42 333.33,472 335,474 C336.67,476 338.67,478.42 340,481 C341.33,483.58 342.03,486.57 343,489.5 C343.97,492.43 344.88,495.35 345.8,498.6 C346.72,501.85 347.65,506.08 348.5,509 C349.35,511.92 350.02,514.22 350.9,516.1 C351.78,517.98 352.95,520.65 353.8,520.3 C354.65,519.95 355.15,516.58 356,514 C356.85,511.42 357.93,506.75 358.9,504.8 C359.87,502.85 360.83,502.35 361.8,502.3 C362.77,502.25 363.75,503.47 364.7,504.5 C365.65,505.53 366.53,507.05 367.5,508.5 C368.47,509.95 369.25,511.48 370.5,513.2 C371.75,514.92 373.53,517.1 375,518.8 C376.47,520.5 377.88,522.2 379.3,523.4 C380.72,524.6 382.05,525.28 383.5,526 C384.95,526.72 386.67,527.03 388,527.7 C389.33,528.37 390.28,529.28 391.5,530 C392.72,530.72 394.22,531.57 395.3,532 C396.38,532.43 397.03,532.58 398,532.6 C398.97,532.62 400.23,532.45 401.1,532.1 C401.97,531.75 402.6,531.23 403.2,530.5 C403.8,529.77 404.18,528.87 404.7,527.7 C405.22,526.53 405.82,525.2 406.3,523.5 C406.78,521.8 407.18,520.08 407.6,517.5 C408.02,514.92 408.43,511.15 408.8,508 C409.17,504.85 409.4,501.43 409.8,498.6 C410.2,495.77 410.72,493.42 411.2,491 C411.68,488.58 412.2,486.52 412.7,484.1 C413.2,481.68 413.7,479 414.2,476.5 C414.7,474 415.12,472.38 415.7,469.1 C416.28,465.82 416.68,460.65 417.7,456.8 C418.72,452.95 420.2,448.93 421.8,446 C423.4,443.07 425.25,441.25 427.3,439.2 C429.35,437.15 431.83,435.3 434.1,433.7 C436.37,432.1 437.95,431.08 440.9,429.6 C443.85,428.12 448.38,426.05 451.8,424.8 C455.22,423.55 458.53,422.9 461.4,422.1 C464.27,421.3 467.73,420.35 469,420" stroke="#939393" stroke-width="1.35" fill="none" />
<path d="M348.7,467.5 C349,468.92 349.77,472.5 350.5,476 C351.23,479.5 352.32,485.25 353.1,488.5 C353.88,491.75 354.47,493.55 355.2,495.5 C355.93,497.45 356.65,498.87 357.5,500.2 C358.35,501.53 359.33,502.55 360.3,503.5 C361.27,504.45 361.83,505.13 363.3,505.9 C364.77,506.67 366.98,507.58 369.1,508.1 C371.22,508.62 373.58,508.77 376,509 C378.42,509.23 380.43,509.35 383.6,509.5 C386.77,509.65 391.43,509.77 395,509.9 C398.57,510.03 401.57,510.18 405,510.3 C408.43,510.42 413.83,510.55 415.6,510.6" stroke="#ee22ee" stroke-width="2.3" fill="none" />
<path d="M289.7,470.34 C290.92,470.07 294.45,469.54 297,468.69 C299.55,467.83 301.17,466.31 305,465.24 C308.83,464.16 315.5,462.57 320,462.22 C324.5,461.86 328.67,462.99 332,463.13 C335.33,463.28 337.97,463.62 340,463.08 C342.03,462.54 343.12,460.07 344.2,459.9 C345.28,459.74 345.78,460.63 346.5,462.1 C347.22,463.56 347.87,465.12 348.5,468.7 C349.13,472.29 349.53,478.13 350.3,483.59 C351.07,489.06 352.18,496.35 353.1,501.49 C354.02,506.63 354.75,511.44 355.8,514.43 C356.85,517.42 357.87,518.49 359.4,519.43 C360.93,520.38 362.4,520.24 365,520.09 C367.6,519.95 371.67,518.8 375,518.56 C378.33,518.32 381.67,518.48 385,518.65 C388.33,518.82 392,519.59 395,519.58 C398,519.58 400.67,519.33 403,518.64 C405.33,517.95 406.9,516.53 409,515.45 C411.1,514.37 412.87,512.31 415.6,512.17 C418.33,512.03 422.07,513.71 425.4,514.62 C428.73,515.53 432.42,516.34 435.6,517.61 C438.78,518.89 441.53,521.04 444.5,522.27 C447.47,523.5 450.65,524.15 453.4,524.99 C456.15,525.83 458.4,526.56 461,527.29 C463.6,528.02 467.67,529.04 469,529.4" stroke="#ff3030" stroke-width="1.1" fill="none" />
<path d="M289.7,463.43 C290.92,463.25 294.45,462.45 297,462.38 C299.55,462.32 301.17,463.26 305,463.01 C308.83,462.76 315.5,461.14 320,460.87 C324.5,460.61 328.67,461.36 332,461.43 C335.33,461.49 337.97,461.43 340,461.29 C342.03,461.14 343.12,460.26 344.2,460.54 C345.28,460.82 345.78,461.31 346.5,462.96 C347.22,464.6 347.87,466.65 348.5,470.4 C349.13,474.16 349.53,479.79 350.3,485.49 C351.07,491.18 352.18,498.99 353.1,504.56 C354.02,510.14 354.75,515.77 355.8,518.93 C356.85,522.1 357.87,522.68 359.4,523.53 C360.93,524.39 362.4,524.16 365,524.08 C367.6,524 371.67,523.25 375,523.06 C378.33,522.86 381.67,522.84 385,522.92 C388.33,523 392,523.71 395,523.51 C398,523.32 400.67,522.75 403,521.78 C405.33,520.8 406.9,519.11 409,517.67 C411.1,516.23 412.87,513.53 415.6,513.17 C418.33,512.8 422.07,514.33 425.4,515.47 C428.73,516.62 432.42,518.57 435.6,520.04 C438.78,521.5 441.53,523.01 444.5,524.26 C447.47,525.5 450.65,526.39 453.4,527.51 C456.15,528.63 458.4,530.11 461,530.98 C463.6,531.86 467.67,532.46 469,532.76" stroke="#1faa2a" stroke-width="1.3" fill="none" />
<path d="M289.7,459.53 C290.92,459.33 294.45,458.35 297,458.33 C299.55,458.31 301.17,459.58 305,459.39 C308.83,459.2 315.5,457.54 320,457.19 C324.5,456.84 328.67,457.16 332,457.29 C335.33,457.41 337.97,457.54 340,457.95 C342.03,458.36 343.12,458.95 344.2,459.74 C345.28,460.52 345.78,460.93 346.5,462.67 C347.22,464.4 347.87,466.53 348.5,470.14 C349.13,473.75 349.53,478.84 350.3,484.33 C351.07,489.82 352.18,497.7 353.1,503.08 C354.02,508.45 354.75,513.55 355.8,516.58 C356.85,519.62 357.87,520.46 359.4,521.27 C360.93,522.08 362.4,521.52 365,521.46 C367.6,521.4 371.67,520.98 375,520.91 C378.33,520.83 381.67,520.99 385,521 C388.33,521.01 392,521.19 395,520.98 C398,520.77 400.67,520.58 403,519.75 C405.33,518.92 406.9,517.17 409,516 C411.1,514.84 412.87,512.98 415.6,512.78 C418.33,512.59 422.07,513.77 425.4,514.83 C428.73,515.89 432.42,517.77 435.6,519.14 C438.78,520.52 441.53,521.95 444.5,523.09 C447.47,524.23 450.65,525.07 453.4,526.01 C456.15,526.94 458.4,527.82 461,528.7 C463.6,529.57 467.67,530.83 469,531.25" stroke="#33ee55" stroke-width="1.3" fill="none" />
<path d="M289.7,441.57 C290,441.44 290.87,441.44 291.5,440.77 C292.13,440.09 292.08,437.64 293.5,437.5 C294.92,437.37 297.25,438.89 300,439.96 C302.75,441.02 306.67,442.47 310,443.9 C313.33,445.33 316.67,447.2 320,448.54 C323.33,449.89 327,450.71 330,451.97 C333,453.22 335.63,455.33 338,456.07 C340.37,456.81 342.78,455.08 344.2,456.4 C345.62,457.72 345.78,461.58 346.5,463.98 C347.22,466.39 347.87,467.12 348.5,470.82 C349.13,474.53 349.53,480.5 350.3,486.2 C351.07,491.91 352.18,499.35 353.1,505.04 C354.02,510.73 354.75,517.02 355.8,520.35 C356.85,523.67 357.87,524.16 359.4,524.99 C360.93,525.82 362.4,525.51 365,525.33 C367.6,525.15 371.67,524.12 375,523.9 C378.33,523.68 381.67,524 385,524.02 C388.33,524.04 392,524.24 395,524.02 C398,523.81 400.67,523.6 403,522.75 C405.33,521.89 406.9,520.54 409,518.91 C411.1,517.29 412.87,513.56 415.6,512.99 C418.33,512.41 422.07,514.31 425.4,515.46 C428.73,516.6 432.42,518.38 435.6,519.86 C438.78,521.33 441.53,522.91 444.5,524.31 C447.47,525.71 450.65,527.12 453.4,528.29 C456.15,529.46 458.4,530.43 461,531.33 C463.6,532.23 467.67,533.29 469,533.69" stroke="#1faa2a" stroke-width="1.3" fill="none" />
<path d="M289.7,436.55 C290,436.32 290.87,435.87 291.5,435.13 C292.13,434.38 292.08,432.14 293.5,432.08 C294.92,432.02 297.25,433.59 300,434.76 C302.75,435.93 306.67,437.76 310,439.11 C313.33,440.46 316.67,441.6 320,442.87 C323.33,444.14 327,445.39 330,446.71 C333,448.04 335.63,449.48 338,450.81 C340.37,452.13 342.78,452.78 344.2,454.66 C345.62,456.53 345.78,459.5 346.5,462.05 C347.22,464.6 347.87,466.22 348.5,469.96 C349.13,473.7 349.53,479.01 350.3,484.5 C351.07,490 352.18,497.64 353.1,502.94 C354.02,508.23 354.75,513.32 355.8,516.27 C356.85,519.21 357.87,519.83 359.4,520.6 C360.93,521.38 362.4,521.05 365,520.91 C367.6,520.77 371.67,519.86 375,519.74 C378.33,519.63 381.67,520.15 385,520.22 C388.33,520.29 392,520.39 395,520.16 C398,519.92 400.67,519.53 403,518.81 C405.33,518.09 406.9,516.94 409,515.84 C411.1,514.74 412.87,512.43 415.6,512.2 C418.33,511.96 422.07,513.42 425.4,514.41 C428.73,515.39 432.42,516.81 435.6,518.1 C438.78,519.38 441.53,520.85 444.5,522.1 C447.47,523.35 450.65,524.59 453.4,525.59 C456.15,526.58 458.4,527.26 461,528.09 C463.6,528.92 467.67,530.16 469,530.58" stroke="#33ee55" stroke-width="1.3" fill="none" />
<path d="M289.7,434.07 C290,433.55 290.87,432 291.5,430.94 C292.13,429.88 292.08,427.89 293.5,427.7 C294.92,427.51 297.25,428.75 300,429.78 C302.75,430.81 306.67,432.51 310,433.88 C313.33,435.24 316.67,436.61 320,437.96 C323.33,439.31 327,440.68 330,441.98 C333,443.28 335.63,443.92 338,445.76 C340.37,447.6 342.78,450.26 344.2,453.01 C345.62,455.77 345.78,459.67 346.5,462.29 C347.22,464.92 347.87,465.28 348.5,468.77 C349.13,472.26 349.53,477.86 350.3,483.24 C351.07,488.61 352.18,495.96 353.1,501.03 C354.02,506.1 354.75,510.72 355.8,513.64 C356.85,516.56 357.87,517.7 359.4,518.56 C360.93,519.42 362.4,518.82 365,518.79 C367.6,518.76 371.67,518.56 375,518.4 C378.33,518.23 381.67,517.81 385,517.8 C388.33,517.78 392,518.29 395,518.32 C398,518.36 400.67,518.57 403,518.01 C405.33,517.44 406.9,515.96 409,514.93 C411.1,513.89 412.87,511.94 415.6,511.78 C418.33,511.63 422.07,513.07 425.4,513.99 C428.73,514.9 432.42,516.01 435.6,517.27 C438.78,518.54 441.53,520.27 444.5,521.58 C447.47,522.88 450.65,524.16 453.4,525.13 C456.15,526.1 458.4,526.69 461,527.38 C463.6,528.07 467.67,528.96 469,529.28" stroke="#ff3030" stroke-width="1.1" fill="none" />
<line x1="341.6" y1="467.8" x2="425.3" y2="467.8" stroke="#ff44ff" stroke-width="1.0" stroke-dasharray="1.5,1.5"/>
<line x1="341.6" y1="511.2" x2="454" y2="511.2" stroke="#ff44ff" stroke-width="1.0" stroke-dasharray="1.5,1.5"/>
<circle cx="328.5" cy="439.3" r="3" fill="#3aa83a"/>
<line x1="332" y1="441.2" x2="344.5" y2="447" stroke="#ee22ee" stroke-width="1.1" />
<path d="M344.95,447.21 L340.57,447.16 L342.08,443.89 Z" fill="#ee22ee"/>
<line x1="445.2" y1="516.9" x2="463" y2="516.9" stroke="#ff3030" stroke-width="1.1" />
<path d="M463.5,516.9 L459,518.7 L459,515.1 Z" fill="#ff3030"/>
<line x1="463.4" y1="419.1" x2="441.8" y2="419.1" stroke="#999" stroke-width="1.0" />
<path d="M441.3,419.1 L445.3,417.5 L445.3,420.7 Z" fill="#999"/>
<text x="336.3" y="439.7" font-size="15" font-weight="normal" text-anchor="middle" fill="#111" font-family='"Liberation Serif", serif' font-style="italic" >e</text>
<line x1="334.5" y1="430.5" x2="339.8" y2="430.5" stroke="#111" stroke-width="0.9" />
</svg>
</body></html>
